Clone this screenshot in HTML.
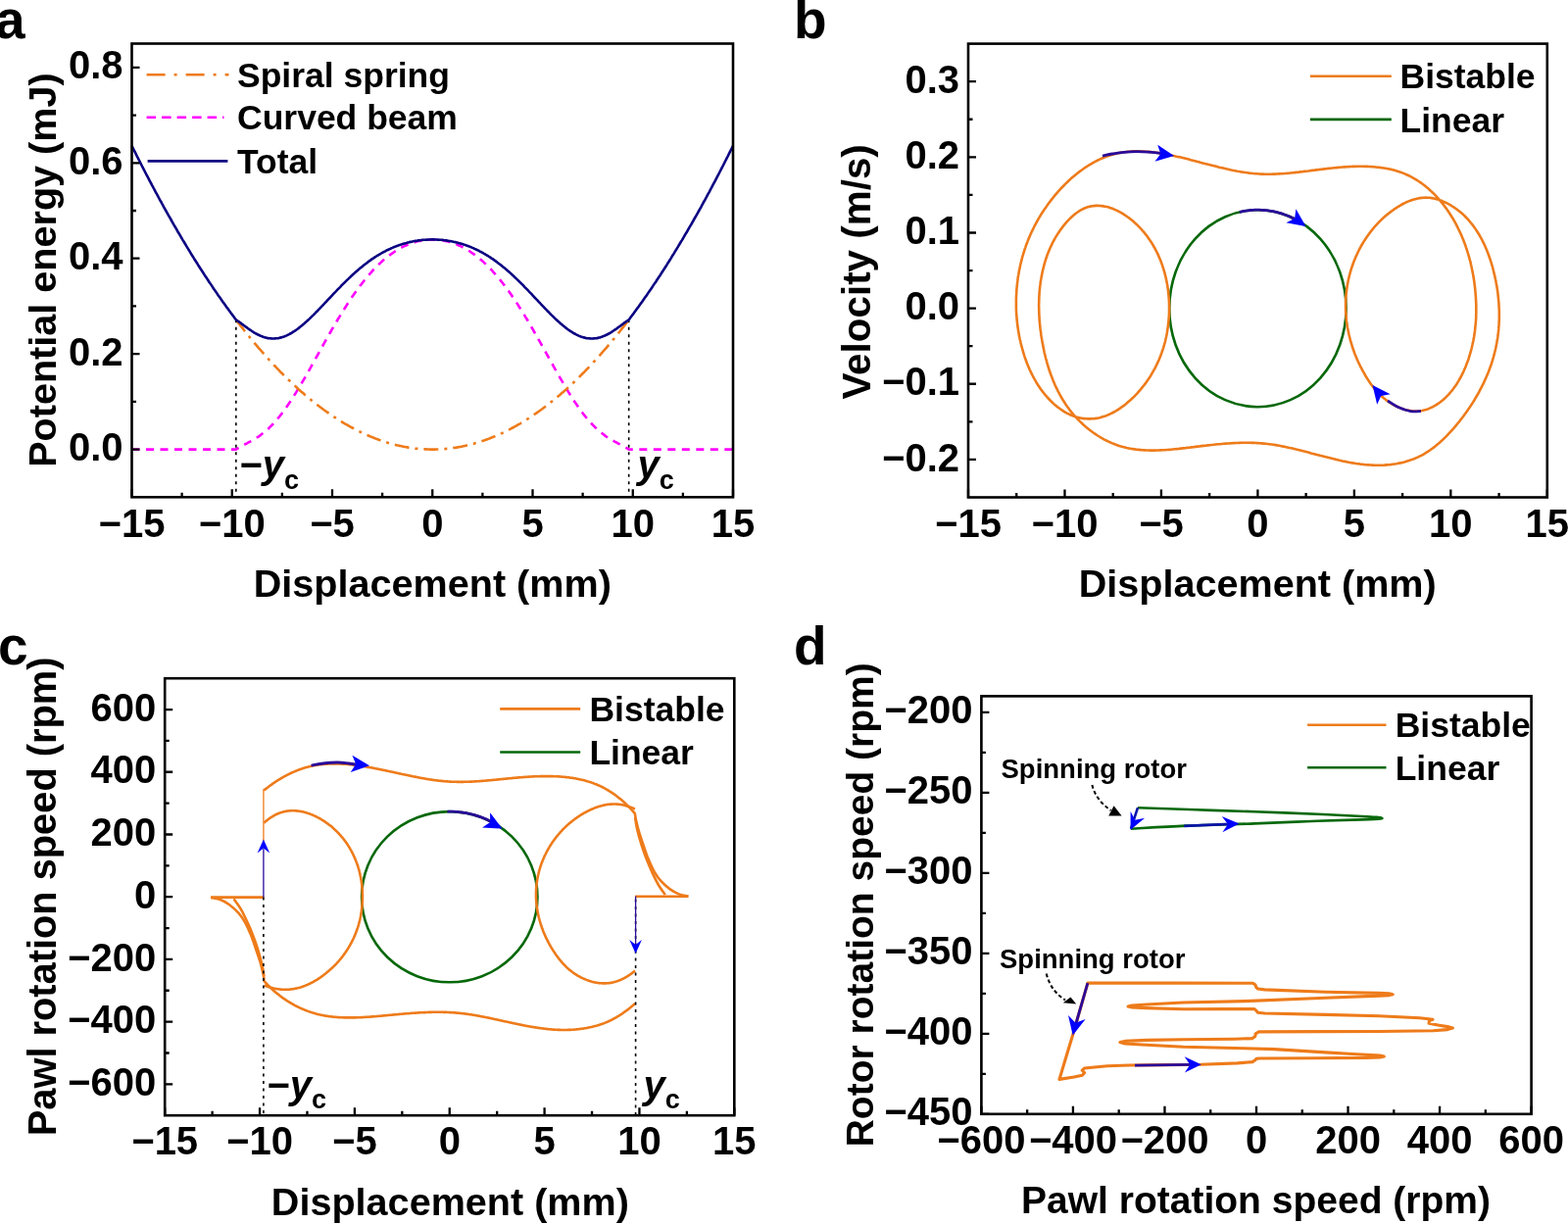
<!DOCTYPE html>
<html><head><meta charset="utf-8"><title>Figure</title>
<style>html,body{margin:0;padding:0;background:#fff;width:1600px;height:1249px;overflow:hidden} svg{display:block}</style>
</head><body>
<svg width="1600" height="1249" viewBox="0 0 1600 1249">
<style>text{font-family:'Liberation Sans', Arial, sans-serif;font-weight:bold;fill:#000} .t40{font-size:40px} .t35{font-size:35.5px}</style>
<rect width="1600" height="1249" fill="#fff"/>
<path d="M134.5 458.6 135.5 458.6 136.5 458.6 137.6 458.6 138.6 458.6 139.6 458.6 140.6 458.6 141.7 458.6 142.7 458.6 143.7 458.6 144.7 458.6 145.7 458.6 146.8 458.6 147.8 458.6 148.8 458.6 149.8 458.6 150.9 458.6 151.9 458.6 152.9 458.6 153.9 458.6 154.9 458.6 156.0 458.6 157.0 458.6 158.0 458.6 159.0 458.6 160.1 458.6 161.1 458.6 162.1 458.6 163.1 458.6 164.2 458.6 165.2 458.6 166.2 458.6 167.2 458.6 168.2 458.6 169.3 458.6 170.3 458.6 171.3 458.6 172.3 458.6 173.4 458.6 174.4 458.6 175.4 458.6 176.4 458.6 177.4 458.6 178.5 458.6 179.5 458.6 180.5 458.6 181.5 458.6 182.6 458.6 183.6 458.6 184.6 458.6 185.6 458.6 186.6 458.6 187.7 458.6 188.7 458.6 189.7 458.6 190.7 458.6 191.8 458.6 192.8 458.6 193.8 458.6 194.8 458.6 195.8 458.6 196.9 458.6 197.9 458.6 198.9 458.6 199.9 458.6 201.0 458.6 202.0 458.6 203.0 458.6 204.0 458.6 205.1 458.6 206.1 458.6 207.1 458.6 208.1 458.6 209.1 458.6 210.2 458.6 211.2 458.6 212.2 458.6 213.2 458.6 214.3 458.6 215.3 458.6 216.3 458.6 217.3 458.6 218.3 458.6 219.4 458.6 220.4 458.6 221.4 458.6 222.4 458.6 223.5 458.6 224.5 458.6 225.5 458.6 226.5 458.6 227.5 458.6 228.6 458.6 229.6 458.6 230.6 458.6 231.6 458.6 232.7 458.6 233.7 458.6 234.7 458.6 235.7 458.6 236.8 458.6 237.8 458.6 238.8 458.6 239.8 458.6 240.8 458.6 241.9 457.9 242.9 457.3 243.9 456.7 244.9 456.1 246.0 455.5 247.0 454.9 248.0 454.4 249.0 453.9 250.0 453.3 251.1 452.8 252.1 452.3 253.1 451.7 254.1 451.2 255.2 450.7 256.2 450.1 257.2 449.5 258.2 448.9 259.2 448.4 260.3 447.7 261.3 447.1 262.3 446.4 263.3 445.8 264.4 445.1 265.4 444.4 266.4 443.6 267.4 442.8 268.4 442.0 269.5 441.2 270.5 440.4 271.5 439.5 272.5 438.6 273.6 437.7 274.6 436.7 275.6 435.7 276.6 434.7 277.6 433.6 278.7 432.5 279.7 431.4 280.7 430.3 281.7 429.1 282.8 427.9 283.8 426.7 284.8 425.5 285.8 424.2 286.9 422.9 287.9 421.5 288.9 420.2 289.9 418.8 290.9 417.4 292.0 416.0 293.0 414.5 294.0 413.0 295.0 411.5 296.1 410.0 297.1 408.4 298.1 406.8 299.1 405.3 300.1 403.6 301.2 402.0 302.2 400.4 303.2 398.7 304.2 397.0 305.3 395.3 306.3 393.6 307.3 391.9 308.3 390.1 309.3 388.4 310.4 386.6 311.4 384.9 312.4 383.1 313.4 381.3 314.5 379.5 315.5 377.7 316.5 375.9 317.5 374.0 318.5 372.2 319.6 370.4 320.6 368.5 321.6 366.7 322.6 364.9 323.7 363.0 324.7 361.2 325.7 359.3 326.7 357.5 327.8 355.7 328.8 353.8 329.8 352.0 330.8 350.2 331.8 348.3 332.9 346.5 333.9 344.7 334.9 342.9 335.9 341.1 337.0 339.3 338.0 337.5 339.0 335.7 340.0 334.0 341.0 332.2 342.1 330.5 343.1 328.7 344.1 327.0 345.1 325.3 346.2 323.6 347.2 321.9 348.2 320.2 349.2 318.6 350.2 316.9 351.3 315.3 352.3 313.7 353.3 312.1 354.3 310.5 355.4 308.9 356.4 307.4 357.4 305.8 358.4 304.3 359.4 302.8 360.5 301.3 361.5 299.8 362.5 298.4 363.5 297.0 364.6 295.6 365.6 294.2 366.6 292.8 367.6 291.4 368.7 290.1 369.7 288.8 370.7 287.5 371.7 286.2 372.7 284.9 373.8 283.7 374.8 282.5 375.8 281.2 376.8 280.1 377.9 278.9 378.9 277.8 379.9 276.6 380.9 275.5 381.9 274.5 383.0 273.4 384.0 272.3 385.0 271.3 386.0 270.3 387.1 269.3 388.1 268.4 389.1 267.4 390.1 266.5 391.1 265.6 392.2 264.7 393.2 263.9 394.2 263.0 395.2 262.2 396.3 261.4 397.3 260.6 398.3 259.9 399.3 259.1 400.4 258.4 401.4 257.7 402.4 257.0 403.4 256.3 404.4 255.7 405.5 255.1 406.5 254.4 407.5 253.9 408.5 253.3 409.6 252.7 410.6 252.2 411.6 251.7 412.6 251.2 413.6 250.7 414.7 250.2 415.7 249.8 416.7 249.4 417.7 249.0 418.8 248.6 419.8 248.2 420.8 247.8 421.8 247.5 422.8 247.2 423.9 246.9 424.9 246.6 425.9 246.3 426.9 246.1 428.0 245.9 429.0 245.7 430.0 245.5 431.0 245.3 432.0 245.1 433.1 245.0 434.1 244.9 435.1 244.7 436.1 244.6 437.2 244.6 438.2 244.5 439.2 244.5 440.2 244.4 441.2 244.4 442.3 244.4 443.3 244.5 444.3 244.5 445.3 244.6 446.4 244.6 447.4 244.7 448.4 244.9 449.4 245.0 450.5 245.1 451.5 245.3 452.5 245.5 453.5 245.7 454.5 245.9 455.6 246.1 456.6 246.3 457.6 246.6 458.6 246.9 459.7 247.2 460.7 247.5 461.7 247.8 462.7 248.2 463.7 248.6 464.8 249.0 465.8 249.4 466.8 249.8 467.8 250.2 468.9 250.7 469.9 251.2 470.9 251.7 471.9 252.2 472.9 252.7 474.0 253.3 475.0 253.9 476.0 254.4 477.0 255.1 478.1 255.7 479.1 256.3 480.1 257.0 481.1 257.7 482.1 258.4 483.2 259.1 484.2 259.9 485.2 260.6 486.2 261.4 487.3 262.2 488.3 263.0 489.3 263.9 490.3 264.7 491.4 265.6 492.4 266.5 493.4 267.4 494.4 268.4 495.4 269.3 496.5 270.3 497.5 271.3 498.5 272.3 499.5 273.4 500.6 274.5 501.6 275.5 502.6 276.6 503.6 277.8 504.6 278.9 505.7 280.1 506.7 281.2 507.7 282.5 508.7 283.7 509.8 284.9 510.8 286.2 511.8 287.5 512.8 288.8 513.8 290.1 514.9 291.4 515.9 292.8 516.9 294.2 517.9 295.6 519.0 297.0 520.0 298.4 521.0 299.8 522.0 301.3 523.0 302.8 524.1 304.3 525.1 305.8 526.1 307.4 527.1 308.9 528.2 310.5 529.2 312.1 530.2 313.7 531.2 315.3 532.3 316.9 533.3 318.6 534.3 320.2 535.3 321.9 536.3 323.6 537.4 325.3 538.4 327.0 539.4 328.7 540.4 330.5 541.5 332.2 542.5 334.0 543.5 335.7 544.5 337.5 545.5 339.3 546.6 341.1 547.6 342.9 548.6 344.7 549.6 346.5 550.7 348.3 551.7 350.2 552.7 352.0 553.7 353.8 554.7 355.7 555.8 357.5 556.8 359.3 557.8 361.2 558.8 363.0 559.9 364.9 560.9 366.7 561.9 368.5 562.9 370.4 564.0 372.2 565.0 374.0 566.0 375.9 567.0 377.7 568.0 379.5 569.1 381.3 570.1 383.1 571.1 384.9 572.1 386.6 573.2 388.4 574.2 390.1 575.2 391.9 576.2 393.6 577.2 395.3 578.3 397.0 579.3 398.7 580.3 400.4 581.3 402.0 582.4 403.6 583.4 405.3 584.4 406.8 585.4 408.4 586.4 410.0 587.5 411.5 588.5 413.0 589.5 414.5 590.5 416.0 591.6 417.4 592.6 418.8 593.6 420.2 594.6 421.5 595.6 422.9 596.7 424.2 597.7 425.5 598.7 426.7 599.7 427.9 600.8 429.1 601.8 430.3 602.8 431.4 603.8 432.5 604.9 433.6 605.9 434.7 606.9 435.7 607.9 436.7 608.9 437.7 610.0 438.6 611.0 439.5 612.0 440.4 613.0 441.2 614.1 442.0 615.1 442.8 616.1 443.6 617.1 444.4 618.1 445.1 619.2 445.8 620.2 446.4 621.2 447.1 622.2 447.7 623.3 448.4 624.3 448.9 625.3 449.5 626.3 450.1 627.3 450.7 628.4 451.2 629.4 451.7 630.4 452.3 631.4 452.8 632.5 453.3 633.5 453.9 634.5 454.4 635.5 454.9 636.5 455.5 637.6 456.1 638.6 456.7 639.6 457.3 640.6 457.9 641.7 458.6 642.7 458.6 643.7 458.6 644.7 458.6 645.8 458.6 646.8 458.6 647.8 458.6 648.8 458.6 649.8 458.6 650.9 458.6 651.9 458.6 652.9 458.6 653.9 458.6 655.0 458.6 656.0 458.6 657.0 458.6 658.0 458.6 659.0 458.6 660.1 458.6 661.1 458.6 662.1 458.6 663.1 458.6 664.2 458.6 665.2 458.6 666.2 458.6 667.2 458.6 668.2 458.6 669.3 458.6 670.3 458.6 671.3 458.6 672.3 458.6 673.4 458.6 674.4 458.6 675.4 458.6 676.4 458.6 677.4 458.6 678.5 458.6 679.5 458.6 680.5 458.6 681.5 458.6 682.6 458.6 683.6 458.6 684.6 458.6 685.6 458.6 686.6 458.6 687.7 458.6 688.7 458.6 689.7 458.6 690.7 458.6 691.8 458.6 692.8 458.6 693.8 458.6 694.8 458.6 695.9 458.6 696.9 458.6 697.9 458.6 698.9 458.6 699.9 458.6 701.0 458.6 702.0 458.6 703.0 458.6 704.0 458.6 705.1 458.6 706.1 458.6 707.1 458.6 708.1 458.6 709.1 458.6 710.2 458.6 711.2 458.6 712.2 458.6 713.2 458.6 714.3 458.6 715.3 458.6 716.3 458.6 717.3 458.6 718.3 458.6 719.4 458.6 720.4 458.6 721.4 458.6 722.4 458.6 723.5 458.6 724.5 458.6 725.5 458.6 726.5 458.6 727.5 458.6 728.6 458.6 729.6 458.6 730.6 458.6 731.6 458.6 732.7 458.6 733.7 458.6 734.7 458.6 735.7 458.6 736.8 458.6 737.8 458.6 738.8 458.6 739.8 458.6 740.8 458.6 741.9 458.6 742.9 458.6 743.9 458.6 744.9 458.6 746.0 458.6 747.0 458.6 748.0 458.6" fill="none" stroke="#FF00FF" stroke-width="2.6" stroke-dasharray="8 6.5"/>
<path d="M240.8 326.3 241.8 327.6 242.8 329.0 243.9 330.3 244.9 331.6 245.9 332.9 246.9 334.2 247.9 335.4 248.9 336.7 249.9 338.0 250.9 339.2 251.9 340.5 252.9 341.8 253.9 343.0 254.9 344.2 255.9 345.5 256.9 346.7 257.9 347.9 258.9 349.1 259.9 350.3 260.9 351.5 261.9 352.7 262.9 353.9 263.9 355.1 264.9 356.2 266.0 357.4 267.0 358.5 268.0 359.7 269.0 360.8 270.0 362.0 271.0 363.1 272.0 364.2 273.0 365.3 274.0 366.5 275.0 367.6 276.0 368.7 277.0 369.7 278.0 370.8 279.0 371.9 280.0 373.0 281.0 374.0 282.0 375.1 283.0 376.1 284.0 377.2 285.0 378.2 286.0 379.3 287.0 380.3 288.1 381.3 289.1 382.3 290.1 383.3 291.1 384.3 292.1 385.3 293.1 386.3 294.1 387.3 295.1 388.2 296.1 389.2 297.1 390.2 298.1 391.1 299.1 392.0 300.1 393.0 301.1 393.9 302.1 394.8 303.1 395.8 304.1 396.7 305.1 397.6 306.1 398.5 307.1 399.4 308.1 400.2 309.2 401.1 310.2 402.0 311.2 402.9 312.2 403.7 313.2 404.6 314.2 405.4 315.2 406.2 316.2 407.1 317.2 407.9 318.2 408.7 319.2 409.5 320.2 410.3 321.2 411.1 322.2 411.9 323.2 412.7 324.2 413.5 325.2 414.3 326.2 415.0 327.2 415.8 328.2 416.5 329.2 417.3 330.2 418.0 331.3 418.7 332.3 419.5 333.3 420.2 334.3 420.9 335.3 421.6 336.3 422.3 337.3 423.0 338.3 423.7 339.3 424.3 340.3 425.0 341.3 425.7 342.3 426.3 343.3 427.0 344.3 427.6 345.3 428.3 346.3 428.9 347.3 429.5 348.3 430.1 349.3 430.8 350.3 431.4 351.3 432.0 352.3 432.6 353.4 433.1 354.4 433.7 355.4 434.3 356.4 434.9 357.4 435.4 358.4 436.0 359.4 436.5 360.4 437.0 361.4 437.6 362.4 438.1 363.4 438.6 364.4 439.1 365.4 439.6 366.4 440.1 367.4 440.6 368.4 441.1 369.4 441.6 370.4 442.1 371.4 442.5 372.4 443.0 373.4 443.4 374.4 443.9 375.5 444.3 376.5 444.8 377.5 445.2 378.5 445.6 379.5 446.0 380.5 446.4 381.5 446.8 382.5 447.2 383.5 447.6 384.5 448.0 385.5 448.3 386.5 448.7 387.5 449.1 388.5 449.4 389.5 449.8 390.5 450.1 391.5 450.4 392.5 450.8 393.5 451.1 394.5 451.4 395.5 451.7 396.5 452.0 397.6 452.3 398.6 452.6 399.6 452.9 400.6 453.1 401.6 453.4 402.6 453.7 403.6 453.9 404.6 454.2 405.6 454.4 406.6 454.6 407.6 454.9 408.6 455.1 409.6 455.3 410.6 455.5 411.6 455.7 412.6 455.9 413.6 456.1 414.6 456.3 415.6 456.4 416.6 456.6 417.6 456.7 418.6 456.9 419.7 457.0 420.7 457.2 421.7 457.3 422.7 457.4 423.7 457.6 424.7 457.7 425.7 457.8 426.7 457.9 427.7 458.0 428.7 458.1 429.7 458.1 430.7 458.2 431.7 458.3 432.7 458.3 433.7 458.4 434.7 458.4 435.7 458.5 436.7 458.5 437.7 458.5 438.7 458.6 439.7 458.6 440.7 458.6 441.8 458.6 442.8 458.6 443.8 458.6 444.8 458.5 445.8 458.5 446.8 458.5 447.8 458.4 448.8 458.4 449.8 458.3 450.8 458.3 451.8 458.2 452.8 458.1 453.8 458.1 454.8 458.0 455.8 457.9 456.8 457.8 457.8 457.7 458.8 457.6 459.8 457.4 460.8 457.3 461.8 457.2 462.8 457.0 463.9 456.9 464.9 456.7 465.9 456.6 466.9 456.4 467.9 456.3 468.9 456.1 469.9 455.9 470.9 455.7 471.9 455.5 472.9 455.3 473.9 455.1 474.9 454.9 475.9 454.6 476.9 454.4 477.9 454.2 478.9 453.9 479.9 453.7 480.9 453.4 481.9 453.1 482.9 452.9 483.9 452.6 484.9 452.3 486.0 452.0 487.0 451.7 488.0 451.4 489.0 451.1 490.0 450.8 491.0 450.4 492.0 450.1 493.0 449.8 494.0 449.4 495.0 449.1 496.0 448.7 497.0 448.3 498.0 448.0 499.0 447.6 500.0 447.2 501.0 446.8 502.0 446.4 503.0 446.0 504.0 445.6 505.0 445.2 506.0 444.8 507.0 444.3 508.1 443.9 509.1 443.4 510.1 443.0 511.1 442.5 512.1 442.1 513.1 441.6 514.1 441.1 515.1 440.6 516.1 440.1 517.1 439.6 518.1 439.1 519.1 438.6 520.1 438.1 521.1 437.6 522.1 437.0 523.1 436.5 524.1 436.0 525.1 435.4 526.1 434.9 527.1 434.3 528.1 433.7 529.1 433.1 530.2 432.6 531.2 432.0 532.2 431.4 533.2 430.8 534.2 430.1 535.2 429.5 536.2 428.9 537.2 428.3 538.2 427.6 539.2 427.0 540.2 426.3 541.2 425.7 542.2 425.0 543.2 424.3 544.2 423.7 545.2 423.0 546.2 422.3 547.2 421.6 548.2 420.9 549.2 420.2 550.2 419.5 551.2 418.7 552.3 418.0 553.3 417.3 554.3 416.5 555.3 415.8 556.3 415.0 557.3 414.3 558.3 413.5 559.3 412.7 560.3 411.9 561.3 411.1 562.3 410.3 563.3 409.5 564.3 408.7 565.3 407.9 566.3 407.1 567.3 406.2 568.3 405.4 569.3 404.6 570.3 403.7 571.3 402.9 572.3 402.0 573.3 401.1 574.4 400.2 575.4 399.4 576.4 398.5 577.4 397.6 578.4 396.7 579.4 395.8 580.4 394.8 581.4 393.9 582.4 393.0 583.4 392.0 584.4 391.1 585.4 390.2 586.4 389.2 587.4 388.2 588.4 387.3 589.4 386.3 590.4 385.3 591.4 384.3 592.4 383.3 593.4 382.3 594.4 381.3 595.5 380.3 596.5 379.3 597.5 378.2 598.5 377.2 599.5 376.1 600.5 375.1 601.5 374.0 602.5 373.0 603.5 371.9 604.5 370.8 605.5 369.7 606.5 368.7 607.5 367.6 608.5 366.5 609.5 365.3 610.5 364.2 611.5 363.1 612.5 362.0 613.5 360.8 614.5 359.7 615.5 358.5 616.5 357.4 617.6 356.2 618.6 355.1 619.6 353.9 620.6 352.7 621.6 351.5 622.6 350.3 623.6 349.1 624.6 347.9 625.6 346.7 626.6 345.5 627.6 344.2 628.6 343.0 629.6 341.8 630.6 340.5 631.6 339.2 632.6 338.0 633.6 336.7 634.6 335.4 635.6 334.2 636.6 332.9 637.6 331.6 638.6 330.3 639.7 329.0 640.7 327.6 641.7 326.3" fill="none" stroke="#EE7B1A" stroke-width="2.6" stroke-dasharray="15 6 3 6"/>
<path d="M240.84 326.32V507.30" stroke="#000" stroke-width="1.6" stroke-dasharray="3 4.5"/>
<path d="M641.66 326.32V507.30" stroke="#000" stroke-width="1.6" stroke-dasharray="3 4.5"/>
<path d="M134.5 148.7 135.5 150.8 136.5 152.8 137.6 154.9 138.6 156.9 139.6 159.0 140.6 161.0 141.7 163.0 142.7 165.0 143.7 167.0 144.7 169.0 145.7 171.0 146.8 173.0 147.8 175.0 148.8 177.0 149.8 178.9 150.9 180.9 151.9 182.8 152.9 184.8 153.9 186.7 154.9 188.7 156.0 190.6 157.0 192.5 158.0 194.4 159.0 196.3 160.1 198.2 161.1 200.1 162.1 202.0 163.1 203.9 164.2 205.7 165.2 207.6 166.2 209.4 167.2 211.3 168.2 213.1 169.3 215.0 170.3 216.8 171.3 218.6 172.3 220.4 173.4 222.2 174.4 224.0 175.4 225.8 176.4 227.6 177.4 229.4 178.5 231.2 179.5 232.9 180.5 234.7 181.5 236.5 182.6 238.2 183.6 239.9 184.6 241.7 185.6 243.4 186.6 245.1 187.7 246.8 188.7 248.5 189.7 250.2 190.7 251.9 191.8 253.6 192.8 255.3 193.8 256.9 194.8 258.6 195.8 260.3 196.9 261.9 197.9 263.6 198.9 265.2 199.9 266.8 201.0 268.4 202.0 270.1 203.0 271.7 204.0 273.3 205.1 274.9 206.1 276.5 207.1 278.0 208.1 279.6 209.1 281.2 210.2 282.7 211.2 284.3 212.2 285.8 213.2 287.4 214.3 288.9 215.3 290.4 216.3 291.9 217.3 293.5 218.3 295.0 219.4 296.5 220.4 297.9 221.4 299.4 222.4 300.9 223.5 302.4 224.5 303.8 225.5 305.3 226.5 306.7 227.5 308.2 228.6 309.6 229.6 311.1 230.6 312.5 231.6 313.9 232.7 315.3 233.7 316.7 234.7 318.1 235.7 319.5 236.8 320.9 237.8 322.2 238.8 323.6 239.8 325.0 240.8 326.3 241.9 327.0 242.9 327.7 243.9 328.4 244.9 329.2 246.0 329.9 247.0 330.7 248.0 331.4 249.0 332.2 250.0 332.9 251.1 333.7 252.1 334.4 253.1 335.2 254.1 335.9 255.2 336.6 256.2 337.3 257.2 338.0 258.2 338.6 259.2 339.3 260.3 339.9 261.3 340.5 262.3 341.0 263.3 341.5 264.4 342.0 265.4 342.5 266.4 342.9 267.4 343.3 268.4 343.7 269.5 344.0 270.5 344.4 271.5 344.6 272.5 344.9 273.6 345.1 274.6 345.2 275.6 345.3 276.6 345.4 277.6 345.5 278.7 345.5 279.7 345.5 280.7 345.4 281.7 345.3 282.8 345.2 283.8 345.1 284.8 344.9 285.8 344.6 286.9 344.4 287.9 344.1 288.9 343.7 289.9 343.4 290.9 343.0 292.0 342.6 293.0 342.1 294.0 341.6 295.0 341.1 296.1 340.5 297.1 340.0 298.1 339.4 299.1 338.7 300.1 338.1 301.2 337.4 302.2 336.7 303.2 336.0 304.2 335.2 305.3 334.4 306.3 333.6 307.3 332.8 308.3 332.0 309.3 331.1 310.4 330.2 311.4 329.3 312.4 328.4 313.4 327.5 314.5 326.5 315.5 325.6 316.5 324.6 317.5 323.6 318.5 322.6 319.6 321.6 320.6 320.6 321.6 319.6 322.6 318.5 323.7 317.5 324.7 316.4 325.7 315.4 326.7 314.3 327.8 313.2 328.8 312.2 329.8 311.1 330.8 310.0 331.8 308.9 332.9 307.8 333.9 306.7 334.9 305.7 335.9 304.6 337.0 303.5 338.0 302.4 339.0 301.3 340.0 300.2 341.0 299.1 342.1 298.1 343.1 297.0 344.1 295.9 345.1 294.9 346.2 293.8 347.2 292.8 348.2 291.7 349.2 290.7 350.2 289.7 351.3 288.6 352.3 287.6 353.3 286.6 354.3 285.6 355.4 284.6 356.4 283.6 357.4 282.7 358.4 281.7 359.4 280.8 360.5 279.8 361.5 278.9 362.5 278.0 363.5 277.1 364.6 276.2 365.6 275.3 366.6 274.4 367.6 273.6 368.7 272.7 369.7 271.9 370.7 271.1 371.7 270.3 372.7 269.5 373.8 268.7 374.8 267.9 375.8 267.1 376.8 266.4 377.9 265.7 378.9 264.9 379.9 264.2 380.9 263.6 381.9 262.9 383.0 262.2 384.0 261.5 385.0 260.9 386.0 260.3 387.1 259.7 388.1 259.1 389.1 258.5 390.1 257.9 391.1 257.3 392.2 256.8 393.2 256.3 394.2 255.7 395.2 255.2 396.3 254.7 397.3 254.3 398.3 253.8 399.3 253.3 400.4 252.9 401.4 252.4 402.4 252.0 403.4 251.6 404.4 251.2 405.5 250.8 406.5 250.5 407.5 250.1 408.5 249.8 409.6 249.4 410.6 249.1 411.6 248.8 412.6 248.5 413.6 248.2 414.7 247.9 415.7 247.6 416.7 247.4 417.7 247.1 418.8 246.9 419.8 246.7 420.8 246.5 421.8 246.3 422.8 246.1 423.9 245.9 424.9 245.7 425.9 245.6 426.9 245.4 428.0 245.3 429.0 245.2 430.0 245.0 431.0 244.9 432.0 244.8 433.1 244.8 434.1 244.7 435.1 244.6 436.1 244.6 437.2 244.5 438.2 244.5 439.2 244.5 440.2 244.4 441.2 244.4 442.3 244.4 443.3 244.5 444.3 244.5 445.3 244.5 446.4 244.6 447.4 244.6 448.4 244.7 449.4 244.8 450.5 244.8 451.5 244.9 452.5 245.0 453.5 245.2 454.5 245.3 455.6 245.4 456.6 245.6 457.6 245.7 458.6 245.9 459.7 246.1 460.7 246.3 461.7 246.5 462.7 246.7 463.7 246.9 464.8 247.1 465.8 247.4 466.8 247.6 467.8 247.9 468.9 248.2 469.9 248.5 470.9 248.8 471.9 249.1 472.9 249.4 474.0 249.8 475.0 250.1 476.0 250.5 477.0 250.8 478.1 251.2 479.1 251.6 480.1 252.0 481.1 252.4 482.1 252.9 483.2 253.3 484.2 253.8 485.2 254.3 486.2 254.7 487.3 255.2 488.3 255.7 489.3 256.3 490.3 256.8 491.4 257.3 492.4 257.9 493.4 258.5 494.4 259.1 495.4 259.7 496.5 260.3 497.5 260.9 498.5 261.5 499.5 262.2 500.6 262.9 501.6 263.6 502.6 264.2 503.6 264.9 504.6 265.7 505.7 266.4 506.7 267.1 507.7 267.9 508.7 268.7 509.8 269.5 510.8 270.3 511.8 271.1 512.8 271.9 513.8 272.7 514.9 273.6 515.9 274.4 516.9 275.3 517.9 276.2 519.0 277.1 520.0 278.0 521.0 278.9 522.0 279.8 523.0 280.8 524.1 281.7 525.1 282.7 526.1 283.6 527.1 284.6 528.2 285.6 529.2 286.6 530.2 287.6 531.2 288.6 532.3 289.7 533.3 290.7 534.3 291.7 535.3 292.8 536.3 293.8 537.4 294.9 538.4 295.9 539.4 297.0 540.4 298.1 541.5 299.1 542.5 300.2 543.5 301.3 544.5 302.4 545.5 303.5 546.6 304.6 547.6 305.7 548.6 306.7 549.6 307.8 550.7 308.9 551.7 310.0 552.7 311.1 553.7 312.2 554.7 313.2 555.8 314.3 556.8 315.4 557.8 316.4 558.8 317.5 559.9 318.5 560.9 319.6 561.9 320.6 562.9 321.6 564.0 322.6 565.0 323.6 566.0 324.6 567.0 325.6 568.0 326.5 569.1 327.5 570.1 328.4 571.1 329.3 572.1 330.2 573.2 331.1 574.2 332.0 575.2 332.8 576.2 333.6 577.2 334.4 578.3 335.2 579.3 336.0 580.3 336.7 581.3 337.4 582.4 338.1 583.4 338.7 584.4 339.4 585.4 340.0 586.4 340.5 587.5 341.1 588.5 341.6 589.5 342.1 590.5 342.6 591.6 343.0 592.6 343.4 593.6 343.7 594.6 344.1 595.6 344.4 596.7 344.6 597.7 344.9 598.7 345.1 599.7 345.2 600.8 345.3 601.8 345.4 602.8 345.5 603.8 345.5 604.9 345.5 605.9 345.4 606.9 345.3 607.9 345.2 608.9 345.1 610.0 344.9 611.0 344.6 612.0 344.4 613.0 344.0 614.1 343.7 615.1 343.3 616.1 342.9 617.1 342.5 618.1 342.0 619.2 341.5 620.2 341.0 621.2 340.5 622.2 339.9 623.3 339.3 624.3 338.6 625.3 338.0 626.3 337.3 627.3 336.6 628.4 335.9 629.4 335.2 630.4 334.4 631.4 333.7 632.5 332.9 633.5 332.2 634.5 331.4 635.5 330.7 636.5 329.9 637.6 329.2 638.6 328.4 639.6 327.7 640.6 327.0 641.7 326.3 642.7 325.0 643.7 323.6 644.7 322.2 645.8 320.9 646.8 319.5 647.8 318.1 648.8 316.7 649.8 315.3 650.9 313.9 651.9 312.5 652.9 311.1 653.9 309.6 655.0 308.2 656.0 306.7 657.0 305.3 658.0 303.8 659.0 302.4 660.1 300.9 661.1 299.4 662.1 297.9 663.1 296.5 664.2 295.0 665.2 293.5 666.2 291.9 667.2 290.4 668.2 288.9 669.3 287.4 670.3 285.8 671.3 284.3 672.3 282.7 673.4 281.2 674.4 279.6 675.4 278.0 676.4 276.5 677.4 274.9 678.5 273.3 679.5 271.7 680.5 270.1 681.5 268.4 682.6 266.8 683.6 265.2 684.6 263.6 685.6 261.9 686.6 260.3 687.7 258.6 688.7 256.9 689.7 255.3 690.7 253.6 691.8 251.9 692.8 250.2 693.8 248.5 694.8 246.8 695.9 245.1 696.9 243.4 697.9 241.7 698.9 239.9 699.9 238.2 701.0 236.5 702.0 234.7 703.0 232.9 704.0 231.2 705.1 229.4 706.1 227.6 707.1 225.8 708.1 224.0 709.1 222.2 710.2 220.4 711.2 218.6 712.2 216.8 713.2 215.0 714.3 213.1 715.3 211.3 716.3 209.4 717.3 207.6 718.3 205.7 719.4 203.9 720.4 202.0 721.4 200.1 722.4 198.2 723.5 196.3 724.5 194.4 725.5 192.5 726.5 190.6 727.5 188.7 728.6 186.7 729.6 184.8 730.6 182.8 731.6 180.9 732.7 178.9 733.7 177.0 734.7 175.0 735.7 173.0 736.8 171.0 737.8 169.0 738.8 167.0 739.8 165.0 740.8 163.0 741.9 161.0 742.9 159.0 743.9 156.9 744.9 154.9 746.0 152.8 747.0 150.8 748.0 148.7" fill="none" stroke="#0A0082" stroke-width="2.6"/>
<text x="244.5" y="487.7" style="font-size:40px">−<tspan style="font-style:italic">y</tspan><tspan dy="11" style="font-size:27px">c</tspan></text>
<text x="650.5" y="487.7" style="font-size:40px"><tspan style="font-style:italic">y</tspan><tspan dy="11" style="font-size:27px">c</tspan></text>
<ellipse cx="1283.4" cy="314.7" rx="90.2" ry="100.5" fill="none" stroke="#06680A" stroke-width="2.6"/>
<path d="M1280.9 177.2 1282.9 177.3 1284.9 177.5 1286.9 177.6 1288.9 177.6 1290.9 177.7 1292.9 177.7 1294.9 177.7 1296.9 177.7 1298.9 177.6 1300.9 177.6 1302.9 177.5 1304.9 177.4 1306.9 177.3 1308.9 177.2 1310.9 177.0 1312.9 176.9 1314.9 176.7 1316.9 176.5 1318.9 176.3 1320.8 176.1 1322.8 175.9 1324.8 175.7 1326.8 175.4 1328.9 175.2 1330.9 174.9 1332.9 174.7 1334.9 174.5 1336.9 174.2 1338.9 173.9 1341.0 173.7 1343.0 173.4 1345.0 173.2 1347.1 172.9 1349.1 172.7 1351.2 172.4 1353.2 172.2 1355.3 171.9 1357.4 171.7 1359.5 171.5 1361.5 171.3 1363.6 171.1 1365.7 170.9 1367.8 170.7 1370.0 170.5 1372.1 170.4 1374.2 170.3 1376.3 170.1 1378.4 170.0 1380.6 169.9 1382.7 169.9 1384.8 169.8 1386.9 169.8 1389.0 169.8 1391.2 169.8 1393.3 169.9 1395.4 169.9 1397.5 170.0 1399.6 170.1 1401.7 170.3 1403.7 170.5 1405.8 170.7 1407.9 170.9 1409.9 171.2 1412.0 171.5 1414.0 171.8 1416.0 172.2 1418.0 172.6 1420.0 173.1 1422.0 173.6 1423.9 174.1 1425.9 174.7 1427.8 175.3 1429.7 175.9 1431.6 176.6 1433.5 177.4 1435.3 178.2 1437.1 179.0 1438.9 179.9 1440.7 180.8 1442.5 181.8 1444.2 182.8 1445.9 183.9 1447.6 185.0 1449.3 186.1 1450.9 187.3 1452.6 188.5 1454.2 189.7 1455.7 191.0 1457.3 192.3 1458.8 193.7 1460.3 195.1 1461.8 196.5 1463.3 197.9 1464.7 199.4 1466.1 200.9 1467.5 202.4 1468.9 204.0 1470.2 205.6 1471.5 207.2 1472.8 208.8 1474.1 210.5 1475.3 212.1 1476.5 213.8 1477.7 215.5 1478.9 217.3 1480.0 219.0 1481.1 220.8 1482.2 222.5 1483.3 224.3 1484.3 226.1 1485.3 227.9 1486.3 229.8 1487.2 231.6 1488.1 233.5 1489.0 235.3 1489.9 237.2 1490.8 239.1 1491.6 241.0 1492.4 242.9 1493.2 244.8 1493.9 246.7 1494.7 248.7 1495.4 250.6 1496.0 252.6 1496.7 254.5 1497.3 256.5 1497.9 258.5 1498.5 260.5 1499.1 262.4 1499.6 264.4 1500.2 266.4 1500.7 268.5 1501.1 270.5 1501.6 272.5 1502.0 274.5 1502.4 276.5 1502.8 278.6 1503.2 280.6 1503.5 282.6 1503.9 284.7 1504.2 286.7 1504.5 288.7 1504.7 290.8 1505.0 292.8 1505.2 294.9 1505.4 296.9 1505.6 299.0 1505.7 301.0 1505.9 303.1 1506.0 305.1 1506.1 307.1 1506.2 309.2 1506.3 311.2 1506.3 313.3 1506.3 315.3 1506.3 317.4 1506.3 319.4 1506.2 321.4 1506.2 323.5 1506.1 325.5 1506.0 327.5 1505.8 329.6 1505.6 331.6 1505.4 333.6 1505.2 335.7 1505.0 337.7 1504.7 339.7 1504.4 341.7 1504.1 343.7 1503.7 345.7 1503.4 347.7 1502.9 349.8 1502.5 351.8 1502.0 353.8 1501.6 355.8 1501.0 357.7 1500.5 359.7 1499.9 361.7 1499.3 363.7 1498.7 365.7 1498.0 367.7 1497.3 369.6 1496.5 371.6 1495.8 373.5 1495.0 375.5 1494.1 377.4 1493.3 379.3 1492.4 381.2 1491.4 383.1 1490.5 385.0 1489.4 386.8 1488.4 388.6 1487.3 390.4 1486.2 392.2 1485.0 393.9 1483.8 395.6 1482.6 397.3 1481.3 398.9 1479.9 400.5 1478.6 402.1 1477.1 403.6 1475.7 405.1 1474.2 406.5 1472.6 407.9 1471.0 409.2 1469.4 410.5 1467.7 411.7 1466.0 412.8 1464.3 413.9 1462.5 414.9 1460.7 415.8 1458.8 416.6 1457.0 417.4 1455.1 418.0 1453.2 418.5 1451.3 419.0 1449.3 419.3 1447.4 419.5 1445.4 419.6 1443.4 419.5 1441.4 419.4 1439.4 419.2 1437.5 418.8 1435.5 418.4 1433.5 417.9 1431.5 417.3 1429.6 416.6 1427.7 415.9 1425.8 415.0 1423.9 414.1 1422.0 413.1 1420.2 412.1 1418.4 411.0 1416.7 409.8 1415.0 408.6 1413.3 407.3 1411.7 406.0 1410.1 404.6 1408.6 403.2 1407.1 401.7 1405.7 400.2 1404.3 398.7 1402.9 397.1 1401.6 395.5 1400.4 393.9 1399.1 392.2 1397.9 390.5 1396.8 388.8 1395.6 387.1 1394.5 385.3 1393.4 383.5 1392.4 381.7 1391.4 379.9 1390.4 378.1 1389.4 376.2 1388.4 374.4 1387.5 372.5 1386.6 370.7 1385.7 368.8 1384.9 366.9 1384.1 365.0 1383.3 363.1 1382.5 361.2 1381.8 359.2 1381.1 357.3 1380.4 355.3 1379.8 353.4 1379.2 351.4 1378.6 349.4 1378.0 347.5 1377.5 345.5 1377.0 343.5 1376.5 341.5 1376.1 339.5 1375.7 337.5 1375.3 335.5 1374.9 333.5 1374.6 331.4 1374.3 329.4 1374.0 327.4 1373.8 325.3 1373.6 323.3 1373.5 321.3 1373.3 319.2 1373.2 317.2 1373.1 315.2 1373.1 313.1 1373.1 311.1 1373.1 309.0 1373.2 307.0 1373.3 304.9 1373.4 302.9 1373.6 300.9 1373.8 298.8 1374.0 296.8 1374.3 294.8 1374.6 292.7 1374.9 290.7 1375.3 288.7 1375.7 286.6 1376.1 284.6 1376.6 282.6 1377.1 280.6 1377.6 278.6 1378.2 276.6 1378.8 274.7 1379.4 272.7 1380.1 270.7 1380.8 268.8 1381.5 266.8 1382.3 264.9 1383.1 263.0 1383.9 261.1 1384.8 259.2 1385.7 257.3 1386.6 255.5 1387.5 253.6 1388.5 251.8 1389.5 250.0 1390.6 248.2 1391.7 246.4 1392.8 244.7 1393.9 243.0 1395.1 241.2 1396.3 239.6 1397.5 237.9 1398.8 236.2 1400.1 234.6 1401.4 233.0 1402.7 231.4 1404.1 229.9 1405.5 228.4 1406.9 226.9 1408.4 225.4 1409.9 223.9 1411.4 222.5 1413.0 221.1 1414.5 219.8 1416.1 218.4 1417.7 217.2 1419.4 215.9 1421.1 214.7 1422.8 213.4 1424.5 212.3 1426.3 211.2 1428.1 210.1 1429.9 209.0 1431.7 208.0 1433.6 207.1 1435.4 206.2 1437.3 205.4 1439.2 204.7 1441.1 204.0 1443.0 203.4 1445.0 202.9 1446.9 202.5 1448.9 202.1 1450.9 201.9 1452.9 201.7 1454.9 201.6 1456.9 201.7 1458.9 201.8 1460.9 202.1 1462.9 202.4 1464.9 202.9 1466.9 203.4 1468.8 204.1 1470.8 204.8 1472.7 205.6 1474.6 206.5 1476.5 207.4 1478.4 208.4 1480.2 209.4 1481.9 210.5 1483.7 211.6 1485.3 212.7 1487.0 213.9 1488.6 215.2 1490.2 216.4 1491.7 217.8 1493.2 219.1 1494.7 220.5 1496.1 222.0 1497.5 223.4 1498.8 224.9 1500.1 226.5 1501.4 228.0 1502.7 229.6 1503.9 231.2 1505.1 232.9 1506.2 234.6 1507.3 236.3 1508.4 238.0 1509.5 239.8 1510.5 241.6 1511.5 243.4 1512.5 245.2 1513.4 247.1 1514.3 248.9 1515.2 250.8 1516.0 252.7 1516.8 254.6 1517.6 256.6 1518.4 258.5 1519.1 260.5 1519.8 262.5 1520.5 264.4 1521.1 266.4 1521.8 268.4 1522.4 270.5 1523.0 272.5 1523.5 274.5 1524.0 276.5 1524.5 278.6 1525.0 280.6 1525.5 282.7 1525.9 284.7 1526.4 286.8 1526.7 288.8 1527.1 290.9 1527.5 292.9 1527.8 295.0 1528.1 297.0 1528.4 299.1 1528.6 301.1 1528.8 303.2 1529.0 305.2 1529.2 307.3 1529.4 309.4 1529.5 311.4 1529.6 313.5 1529.7 315.5 1529.8 317.6 1529.8 319.6 1529.8 321.7 1529.8 323.7 1529.8 325.8 1529.7 327.8 1529.6 329.8 1529.5 331.9 1529.3 333.9 1529.2 335.9 1529.0 338.0 1528.8 340.0 1528.5 342.0 1528.3 344.0 1528.0 346.0 1527.6 348.0 1527.3 350.0 1526.9 352.0 1526.5 354.0 1526.1 356.0 1525.6 358.0 1525.1 360.0 1524.6 361.9 1524.1 363.9 1523.5 365.9 1522.9 367.8 1522.3 369.8 1521.7 371.7 1521.0 373.6 1520.3 375.6 1519.6 377.5 1518.9 379.4 1518.1 381.3 1517.3 383.2 1516.5 385.1 1515.7 386.9 1514.8 388.8 1514.0 390.7 1513.1 392.5 1512.1 394.4 1511.2 396.2 1510.2 398.0 1509.3 399.9 1508.3 401.7 1507.2 403.5 1506.2 405.3 1505.1 407.0 1504.1 408.8 1503.0 410.6 1501.9 412.3 1500.7 414.1 1499.6 415.8 1498.4 417.5 1497.2 419.2 1496.0 420.9 1494.8 422.6 1493.6 424.3 1492.3 426.0 1491.0 427.6 1489.8 429.3 1488.5 430.9 1487.1 432.5 1485.8 434.1 1484.5 435.7 1483.1 437.3 1481.7 438.8 1480.3 440.4 1478.9 441.9 1477.5 443.4 1476.1 444.9 1474.6 446.4 1473.1 447.8 1471.7 449.2 1470.1 450.6 1468.6 452.0 1467.0 453.3 1465.5 454.6 1463.9 455.9 1462.3 457.1 1460.6 458.3 1459.0 459.5 1457.3 460.6 1455.6 461.7 1453.8 462.8 1452.1 463.8 1450.3 464.8 1448.5 465.7 1446.6 466.6 1444.8 467.4 1442.9 468.2 1441.0 468.9 1439.0 469.6 1437.1 470.2 1435.1 470.8 1433.1 471.4 1431.1 471.9 1429.1 472.4 1427.0 472.8 1425.0 473.2 1423.0 473.5 1420.9 473.8 1418.9 474.1 1416.8 474.3 1414.8 474.4 1412.7 474.6 1410.7 474.7 1408.6 474.7 1406.6 474.8 1404.5 474.8 1402.5 474.7 1400.5 474.6 1398.4 474.5 1396.4 474.4 1394.3 474.3 1392.3 474.1 1390.3 473.8 1388.2 473.6 1386.2 473.3 1384.2 473.1 1382.2 472.7 1380.1 472.4 1378.1 472.1 1376.1 471.7 1374.1 471.3 1372.0 470.9 1370.0 470.5 1368.0 470.0 1366.0 469.6 1363.9 469.1 1361.9 468.6 1359.9 468.1 1357.9 467.6 1355.9 467.1 1353.9 466.6 1351.8 466.1 1349.8 465.6 1347.8 465.1 1345.8 464.5 1343.8 464.0 1341.8 463.4 1339.7 462.9 1337.7 462.4 1335.7 461.8 1333.7 461.3 1331.7 460.8 1329.7 460.3 1327.7 459.7 1325.7 459.2 1323.6 458.7 1321.6 458.3 1319.6 457.8 1317.6 457.3 1315.6 456.9 1313.6 456.4 1311.6 456.0 1309.5 455.6 1307.5 455.2 1305.5 454.8 1303.5 454.4 1301.5 454.1 1299.5 453.8 1297.5 453.5 1295.4 453.2 1293.4 453.0 1291.4 452.8 1289.4 452.6 1287.4 452.4 1285.4 452.2 1283.3 452.1 1281.3 452.0 1279.3 451.9 1277.3 451.9 1275.3 451.8 1273.2 451.8 1271.2 451.8 1269.2 451.8 1267.2 451.8 1265.1 451.9 1263.1 452.0 1261.1 452.0 1259.0 452.1 1257.0 452.2 1254.9 452.4 1252.9 452.5 1250.9 452.6 1248.8 452.8 1246.8 453.0 1244.7 453.2 1242.7 453.3 1240.6 453.5 1238.6 453.8 1236.5 454.0 1234.4 454.2 1232.4 454.4 1230.3 454.7 1228.2 454.9 1226.1 455.1 1224.1 455.4 1222.0 455.6 1219.9 455.9 1217.8 456.2 1215.7 456.4 1213.6 456.7 1211.5 456.9 1209.4 457.2 1207.3 457.4 1205.2 457.6 1203.1 457.9 1201.0 458.1 1198.9 458.3 1196.8 458.5 1194.7 458.7 1192.6 458.9 1190.6 459.0 1188.5 459.2 1186.4 459.3 1184.3 459.4 1182.2 459.5 1180.1 459.5 1178.1 459.6 1176.0 459.6 1173.9 459.6 1171.9 459.5 1169.8 459.5 1167.8 459.4 1165.7 459.3 1163.7 459.1 1161.7 458.9 1159.7 458.7 1157.7 458.4 1155.7 458.1 1153.7 457.8 1151.7 457.4 1149.7 457.0 1147.8 456.5 1145.8 456.0 1143.9 455.5 1142.0 454.9 1140.0 454.2 1138.1 453.6 1136.3 452.8 1134.4 452.1 1132.5 451.2 1130.7 450.4 1128.9 449.5 1127.0 448.6 1125.3 447.6 1123.5 446.6 1121.7 445.5 1120.0 444.5 1118.3 443.3 1116.6 442.2 1114.9 441.0 1113.2 439.8 1111.6 438.5 1110.0 437.2 1108.4 435.9 1106.8 434.6 1105.3 433.2 1103.8 431.8 1102.3 430.4 1100.8 428.9 1099.4 427.4 1098.0 425.9 1096.6 424.4 1095.2 422.8 1093.9 421.2 1092.6 419.6 1091.3 418.0 1090.1 416.3 1088.9 414.7 1087.7 413.0 1086.6 411.3 1085.5 409.5 1084.4 407.8 1083.3 406.0 1082.3 404.2 1081.3 402.4 1080.4 400.6 1079.4 398.8 1078.5 396.9 1077.6 395.1 1076.7 393.2 1075.9 391.3 1075.1 389.4 1074.3 387.5 1073.6 385.6 1072.8 383.6 1072.1 381.7 1071.4 379.7 1070.7 377.8 1070.1 375.8 1069.5 373.8 1068.9 371.8 1068.3 369.8 1067.8 367.8 1067.2 365.8 1066.7 363.8 1066.2 361.8 1065.7 359.7 1065.3 357.7 1064.9 355.7 1064.4 353.6 1064.1 351.6 1063.7 349.5 1063.3 347.5 1063.0 345.4 1062.6 343.4 1062.3 341.4 1062.1 339.3 1061.8 337.3 1061.5 335.2 1061.3 333.2 1061.1 331.1 1060.9 329.1 1060.7 327.0 1060.6 325.0 1060.5 322.9 1060.3 320.9 1060.3 318.8 1060.2 316.8 1060.2 314.8 1060.1 312.7 1060.1 310.7 1060.2 308.6 1060.2 306.6 1060.3 304.6 1060.4 302.5 1060.5 300.5 1060.6 298.5 1060.8 296.5 1061.0 294.5 1061.2 292.4 1061.5 290.4 1061.7 288.4 1062.0 286.4 1062.4 284.4 1062.7 282.4 1063.1 280.4 1063.5 278.5 1063.9 276.5 1064.4 274.5 1064.9 272.5 1065.4 270.6 1065.9 268.6 1066.5 266.6 1067.1 264.7 1067.8 262.8 1068.4 260.8 1069.1 258.9 1069.9 257.0 1070.7 255.1 1071.5 253.2 1072.4 251.3 1073.3 249.4 1074.2 247.5 1075.2 245.6 1076.2 243.8 1077.3 241.9 1078.4 240.1 1079.6 238.3 1080.8 236.5 1082.0 234.6 1083.4 232.9 1084.7 231.1 1086.1 229.3 1087.5 227.6 1089.0 225.9 1090.5 224.3 1092.1 222.7 1093.7 221.2 1095.3 219.8 1096.9 218.4 1098.6 217.2 1100.3 216.0 1102.0 214.9 1103.8 213.9 1105.6 213.0 1107.3 212.2 1109.1 211.6 1111.0 211.1 1112.8 210.6 1114.6 210.3 1116.5 210.1 1118.3 209.9 1120.2 209.9 1122.0 210.0 1123.9 210.1 1125.8 210.4 1127.6 210.7 1129.5 211.1 1131.4 211.6 1133.2 212.2 1135.1 212.8 1136.9 213.6 1138.7 214.4 1140.5 215.2 1142.3 216.1 1144.1 217.1 1145.9 218.2 1147.6 219.3 1149.4 220.5 1151.1 221.7 1152.8 222.9 1154.4 224.2 1156.0 225.6 1157.6 227.0 1159.2 228.4 1160.7 229.9 1162.2 231.4 1163.7 232.9 1165.1 234.5 1166.5 236.1 1167.9 237.7 1169.2 239.4 1170.5 241.0 1171.7 242.7 1172.9 244.4 1174.1 246.2 1175.2 247.9 1176.3 249.7 1177.3 251.5 1178.4 253.3 1179.3 255.1 1180.3 257.0 1181.2 258.9 1182.1 260.7 1182.9 262.7 1183.7 264.6 1184.5 266.5 1185.2 268.4 1185.9 270.4 1186.6 272.4 1187.2 274.4 1187.8 276.4 1188.4 278.4 1188.9 280.4 1189.4 282.4 1189.9 284.4 1190.3 286.5 1190.7 288.5 1191.1 290.6 1191.4 292.6 1191.7 294.7 1192.0 296.7 1192.2 298.8 1192.4 300.9 1192.6 303.0 1192.8 305.0 1192.9 307.1 1193.0 309.2 1193.0 311.3 1193.1 313.3 1193.1 315.4 1193.0 317.5 1193.0 319.5 1192.9 321.6 1192.8 323.6 1192.6 325.7 1192.4 327.7 1192.2 329.8 1192.0 331.8 1191.7 333.8 1191.4 335.8 1191.1 337.9 1190.8 339.9 1190.4 341.9 1190.0 343.8 1189.5 345.8 1189.1 347.8 1188.6 349.8 1188.0 351.7 1187.5 353.7 1186.9 355.6 1186.2 357.5 1185.6 359.4 1184.9 361.3 1184.2 363.2 1183.4 365.1 1182.7 367.0 1181.8 368.8 1181.0 370.7 1180.1 372.5 1179.2 374.3 1178.3 376.1 1177.3 377.9 1176.3 379.7 1175.3 381.4 1174.3 383.2 1173.2 384.9 1172.0 386.6 1170.9 388.3 1169.7 390.0 1168.5 391.6 1167.2 393.3 1165.9 394.9 1164.6 396.5 1163.3 398.1 1161.9 399.7 1160.5 401.3 1159.0 402.8 1157.6 404.3 1156.1 405.8 1154.5 407.3 1152.9 408.7 1151.3 410.1 1149.7 411.5 1148.0 412.9 1146.4 414.2 1144.6 415.4 1142.9 416.6 1141.1 417.8 1139.4 418.9 1137.6 420.0 1135.7 421.0 1133.9 421.9 1132.0 422.8 1130.1 423.6 1128.2 424.4 1126.3 425.0 1124.3 425.6 1122.4 426.2 1120.4 426.6 1118.4 426.9 1116.4 427.2 1114.4 427.3 1112.4 427.4 1110.4 427.4 1108.4 427.3 1106.4 427.1 1104.4 426.9 1102.4 426.5 1100.4 426.1 1098.5 425.6 1096.6 425.0 1094.7 424.3 1092.8 423.5 1091.0 422.7 1089.1 421.8 1087.3 420.8 1085.6 419.8 1083.9 418.7 1082.1 417.5 1080.5 416.3 1078.8 415.1 1077.2 413.7 1075.6 412.4 1074.1 411.0 1072.6 409.5 1071.1 408.0 1069.7 406.5 1068.2 404.9 1066.9 403.3 1065.5 401.7 1064.2 400.0 1063.0 398.4 1061.7 396.7 1060.6 395.0 1059.4 393.2 1058.3 391.5 1057.2 389.7 1056.2 387.9 1055.2 386.2 1054.2 384.3 1053.3 382.5 1052.3 380.7 1051.5 378.8 1050.6 377.0 1049.8 375.1 1049.0 373.2 1048.2 371.3 1047.5 369.4 1046.8 367.5 1046.1 365.5 1045.4 363.6 1044.8 361.6 1044.2 359.7 1043.6 357.7 1043.1 355.7 1042.5 353.7 1042.0 351.7 1041.5 349.7 1041.1 347.7 1040.6 345.7 1040.2 343.7 1039.8 341.7 1039.4 339.6 1039.1 337.6 1038.8 335.5 1038.5 333.5 1038.2 331.5 1038.0 329.4 1037.8 327.3 1037.6 325.3 1037.4 323.2 1037.2 321.2 1037.1 319.1 1037.0 317.0 1036.9 315.0 1036.9 312.9 1036.9 310.8 1036.9 308.8 1036.9 306.7 1036.9 304.6 1037.0 302.6 1037.1 300.5 1037.2 298.5 1037.3 296.4 1037.5 294.4 1037.7 292.3 1037.9 290.3 1038.1 288.3 1038.4 286.2 1038.6 284.2 1038.9 282.2 1039.3 280.2 1039.6 278.2 1040.0 276.1 1040.4 274.2 1040.8 272.2 1041.2 270.2 1041.7 268.2 1042.2 266.2 1042.7 264.3 1043.2 262.3 1043.8 260.3 1044.4 258.4 1045.0 256.5 1045.6 254.5 1046.3 252.6 1046.9 250.7 1047.6 248.8 1048.4 246.9 1049.1 245.0 1049.9 243.1 1050.7 241.2 1051.5 239.3 1052.3 237.5 1053.2 235.6 1054.1 233.8 1055.0 232.0 1055.9 230.1 1056.9 228.3 1057.9 226.5 1058.9 224.7 1059.9 222.9 1061.0 221.1 1062.0 219.4 1063.1 217.6 1064.3 215.8 1065.4 214.1 1066.6 212.4 1067.8 210.7 1069.0 208.9 1070.2 207.2 1071.5 205.6 1072.8 203.9 1074.1 202.2 1075.4 200.6 1076.8 198.9 1078.2 197.3 1079.6 195.7 1081.0 194.1 1082.4 192.5 1083.9 191.0 1085.4 189.5 1086.9 187.9 1088.4 186.5 1089.9 185.0 1091.5 183.5 1093.0 182.1 1094.6 180.7 1096.2 179.4 1097.9 178.0 1099.5 176.7 1101.2 175.4 1102.8 174.2 1104.5 173.0 1106.2 171.8 1107.9 170.6 1109.7 169.5 1111.4 168.4 1113.2 167.3 1114.9 166.3 1116.7 165.3 1118.5 164.4 1120.3 163.5 1122.1 162.6 1124.0 161.8 1125.8 161.0 1127.6 160.2 1129.5 159.5 1131.4 158.9 1133.2 158.3 1135.1 157.7 1137.0 157.2 1138.9 156.7 1140.8 156.3 1142.7 155.9 1144.6 155.6 1146.6 155.3 1148.5 155.1 1150.4 154.8 1152.4 154.7 1154.3 154.5 1156.3 154.4 1158.3 154.4 1160.2 154.4 1162.2 154.4 1164.2 154.4 1166.2 154.5 1168.2 154.6 1170.2 154.7 1172.2 154.9 1174.2 155.1 1176.2 155.3 1178.2 155.6 1180.2 155.8 1182.2 156.1 1184.3 156.4 1186.3 156.8 1188.3 157.1 1190.4 157.5 1192.4 157.9 1194.5 158.3 1196.5 158.8 1198.6 159.2 1200.6 159.7 1202.7 160.1 1204.7 160.6 1206.8 161.1 1208.8 161.6 1210.9 162.1 1213.0 162.6 1215.0 163.2 1217.1 163.7 1219.2 164.2 1221.2 164.8 1223.3 165.3 1225.4 165.9 1227.4 166.4 1229.5 167.0 1231.6 167.5 1233.7 168.0 1235.7 168.6 1237.8 169.1 1239.9 169.6 1241.9 170.1 1244.0 170.7 1246.1 171.1 1248.1 171.6 1250.2 172.1 1252.3 172.6 1254.3 173.0 1256.4 173.5 1258.4 173.9 1260.5 174.3 1262.5 174.7 1264.6 175.0 1266.6 175.4 1268.7 175.7 1270.7 176.0 1272.8 176.3 1274.8 176.6 1276.8 176.8 1278.8 177.0 1280.9 177.2Z" fill="none" stroke="#EE7B1A" stroke-width="2.6" stroke-linejoin="round"/>
<path d="M1264.8 216.4 1267.0 215.9 1269.3 215.4 1271.5 215.1 1273.8 214.8 1276.1 214.5 1278.4 214.4 1280.7 214.2 1283.0 214.2 1285.2 214.2 1287.5 214.3 1289.8 214.5 1292.1 214.7 1294.4 214.9 1296.6 215.3 1298.9 215.7 1301.1 216.2 1303.4 216.7 1305.6 217.3 1307.8 217.9 1310.0 218.7 1312.2 219.5 1314.3 220.3 1316.5 221.2 1318.6 222.2 1320.7 223.2 1322.8 224.3 1324.8 225.4 1326.8 226.6 1328.8 227.9" fill="none" stroke="#2A0A9A" stroke-width="2.8"/>
<path d="M1332.5 231.0L1312.4 227.3L1321.1 222.9L1322.4 213.3Z" fill="#0000FF"/>
<path d="M1125.0 159.1C1126.7 158.8 1131.3 157.6 1135.0 157.0C1138.7 156.4 1142.8 155.7 1147.0 155.3C1151.2 154.9 1155.8 154.7 1160.0 154.7C1164.2 154.7 1168.0 154.8 1172.0 155.1C1176.0 155.4 1180.8 155.9 1184.0 156.3C1187.2 156.7 1189.8 157.3 1191.0 157.5" fill="none" stroke="#2A0A9A" stroke-width="2.8"/>
<path d="M1198.1 159.1L1178.5 164.7L1184.3 156.9L1181.2 147.7Z" fill="#0000FF"/>
<path d="M1449.9 419.6C1448.2 419.6 1443.4 420.3 1439.4 419.6C1435.5 418.9 1430.1 417.0 1426.2 415.2C1422.3 413.4 1417.7 410.0 1416.0 409.0" fill="none" stroke="#2A0A9A" stroke-width="2.8"/>
<path d="M1400.5 393.0L1418.7 402.2L1409.2 404.0L1405.2 412.8Z" fill="#0000FF"/>
<ellipse cx="458.75" cy="915.2" rx="89.7" ry="87.1" fill="none" stroke="#06680A" stroke-width="2.6"/>
<path d="M269.1 806.6 269.7 806.1 270.4 805.6 271.0 805.2 271.6 804.7 272.2 804.2 272.8 803.7 273.5 803.2 274.1 802.7 274.7 802.3 275.4 801.8 276.0 801.3 276.7 800.9 277.3 800.4 277.9 799.9 278.6 799.5 279.3 799.0 279.9 798.6 280.6 798.1 281.2 797.7 281.9 797.3 282.5 796.8 283.2 796.4 283.9 796.0 284.6 795.6 285.2 795.2 285.9 794.8 286.6 794.4 287.3 794.0 287.9 793.6 288.6 793.2 289.3 792.8 290.0 792.4 290.7 792.0 291.4 791.7 292.1 791.3 292.8 790.9 293.5 790.6 294.2 790.2 294.9 789.9 295.6 789.5 296.3 789.2 297.0 788.8 297.7 788.5 298.4 788.2 299.1 787.9 299.8 787.6 300.6 787.3 301.3 787.0 302.0 786.7 302.7 786.4 303.4 786.1 304.2 785.8 304.9 785.5 305.6 785.3 306.3 785.0 307.1 784.7 307.8 784.5 308.5 784.3 309.3 784.0 310.0 783.8 310.7 783.6 311.5 783.3 312.2 783.1 313.0 782.9 313.7 782.7 314.5 782.5 315.2 782.3 315.9 782.2 316.7 782.0 317.4 781.8 318.2 781.6 318.9 781.5 319.7 781.3 320.4 781.2 321.2 781.1 322.0 780.9 322.7 780.8 323.5 780.7 324.2 780.6 325.0 780.4 325.7 780.3 326.5 780.2 327.3 780.2 328.0 780.1 328.8 780.0 329.6 779.9 330.3 779.8 331.1 779.8 331.9 779.7 332.6 779.7 333.4 779.6 334.2 779.6 335.0 779.5 335.7 779.5 336.5 779.4 337.3 779.4 338.0 779.4 338.8 779.4 339.6 779.4 340.4 779.4 341.2 779.4 341.9 779.4 342.7 779.4 343.5 779.4 344.3 779.4 345.1 779.4 345.9 779.4 346.6 779.5 347.4 779.5 348.2 779.5 349.0 779.6 349.8 779.6 350.6 779.7 351.4 779.7 352.2 779.8 353.0 779.8 353.7 779.9 354.5 779.9 355.3 780.0 356.1 780.1 356.9 780.2 357.7 780.2 358.5 780.3 359.3 780.4 360.1 780.5 360.9 780.6 361.7 780.7 362.5 780.8 363.3 780.9 364.1 781.0 364.9 781.1 365.7 781.2 366.5 781.3 367.3 781.4 368.1 781.6 368.9 781.7 369.7 781.8 370.5 781.9 371.3 782.0 372.1 782.2 372.9 782.3 373.7 782.4 374.5 782.6 375.3 782.7 376.1 782.9 377.0 783.0 377.8 783.2 378.6 783.3 379.4 783.4 380.2 783.6 381.0 783.8 381.8 783.9 382.6 784.1 383.4 784.2 384.2 784.4 385.0 784.5 385.9 784.7 386.7 784.9 387.5 785.0 388.3 785.2 389.1 785.4 389.9 785.5 390.7 785.7 391.5 785.9 392.4 786.0 393.2 786.2 394.0 786.4 394.8 786.5 395.6 786.7 396.4 786.9 397.2 787.1 398.0 787.2 398.9 787.4 399.7 787.6 400.5 787.8 401.3 788.0 402.1 788.1 402.9 788.3 403.7 788.5 404.6 788.7 405.4 788.8 406.2 789.0 407.0 789.2 407.8 789.4 408.6 789.5 409.4 789.7 410.3 789.9 411.1 790.1 411.9 790.2 412.7 790.4 413.5 790.6 414.3 790.8 415.1 790.9 416.0 791.1 416.8 791.3 417.6 791.5 418.4 791.6 419.2 791.8 420.0 792.0 420.8 792.1 421.6 792.3 422.5 792.5 423.3 792.6 424.1 792.8 424.9 792.9 425.7 793.1 426.5 793.3 427.3 793.4 428.1 793.6 428.9 793.7 429.8 793.9 430.6 794.0 431.4 794.2 432.2 794.3 433.0 794.4 433.8 794.6 434.6 794.7 435.4 794.9 436.2 795.0 437.0 795.1 437.8 795.2 438.6 795.4 439.5 795.5 440.3 795.6 441.1 795.7 441.9 795.9 442.7 796.0 443.5 796.1 444.3 796.2 445.1 796.3 445.9 796.4 446.7 796.5 447.5 796.6 448.3 796.7 449.1 796.8 449.9 796.9 450.7 796.9 451.5 797.0 452.3 797.1 453.1 797.2 453.9 797.2 454.7 797.3 455.5 797.4 456.3 797.4 456.3 797.4 457.1 797.5 457.8 797.5 458.6 797.6 459.4 797.6 460.2 797.7 461.0 797.7 461.8 797.7 462.6 797.8 463.4 797.8 464.2 797.8 465.0 797.8 465.8 797.8 466.5 797.9 467.3 797.9 468.1 797.9 468.9 797.9 469.7 797.9 470.5 797.9 471.3 797.9 472.0 797.9 472.8 797.9 473.6 797.8 474.4 797.8 475.2 797.8 476.0 797.8 476.8 797.8 477.5 797.7 478.3 797.7 479.1 797.7 479.9 797.6 480.7 797.6 481.5 797.6 482.2 797.5 483.0 797.5 483.8 797.5 484.6 797.4 485.4 797.4 486.2 797.3 486.9 797.3 487.7 797.2 488.5 797.2 489.3 797.1 490.1 797.0 490.9 797.0 491.6 796.9 492.4 796.9 493.2 796.8 494.0 796.7 494.8 796.7 495.6 796.6 496.3 796.5 497.1 796.5 497.9 796.4 498.7 796.3 499.5 796.3 500.3 796.2 501.1 796.1 501.9 796.0 502.6 796.0 503.4 795.9 504.2 795.8 505.0 795.7 505.8 795.7 506.6 795.6 507.4 795.5 508.2 795.4 509.0 795.4 509.8 795.3 510.6 795.2 511.4 795.1 512.1 795.0 512.9 795.0 513.7 794.9 514.5 794.8 515.3 794.7 516.1 794.6 516.9 794.6 517.7 794.5 518.5 794.4 519.3 794.3 520.1 794.2 520.9 794.2 521.7 794.1 522.6 794.0 523.4 793.9 524.2 793.9 525.0 793.8 525.8 793.7 526.6 793.6 527.4 793.6 528.2 793.5 529.0 793.4 529.8 793.4 530.7 793.3 531.5 793.2 532.3 793.2 533.1 793.1 533.9 793.0 534.7 793.0 535.6 792.9 536.4 792.9 537.2 792.8 538.0 792.7 538.9 792.7 539.7 792.6 540.5 792.6 541.4 792.5 542.2 792.5 543.0 792.5 543.8 792.4 544.7 792.4 545.5 792.3 546.3 792.3 547.2 792.3 548.0 792.2 548.8 792.2 549.7 792.2 550.5 792.2 551.3 792.1 552.2 792.1 553.0 792.1 553.8 792.1 554.7 792.1 555.5 792.1 556.4 792.1 557.2 792.1 558.0 792.1 558.9 792.1 559.7 792.1 560.5 792.1 561.4 792.1 562.2 792.1 563.0 792.1 563.9 792.1 564.7 792.2 565.5 792.2 566.4 792.2 567.2 792.3 568.0 792.3 568.8 792.3 569.7 792.4 570.5 792.4 571.3 792.5 572.1 792.5 573.0 792.6 573.8 792.7 574.6 792.7 575.4 792.8 576.2 792.9 577.1 793.0 577.9 793.1 578.7 793.2 579.5 793.3 580.3 793.3 581.1 793.5 581.9 793.6 582.7 793.7 583.5 793.8 584.4 793.9 585.2 794.0 586.0 794.2 586.7 794.3 587.5 794.4 588.3 794.6 589.1 794.7 589.9 794.9 590.7 795.1 591.5 795.2 592.3 795.4 593.1 795.6 593.8 795.7 594.6 795.9 595.4 796.1 596.2 796.3 596.9 796.5 597.7 796.7 598.4 796.9 599.2 797.2 600.0 797.4 600.7 797.6 601.5 797.9 602.2 798.1 603.0 798.3 603.7 798.6 604.4 798.9 605.2 799.1 605.9 799.4 606.6 799.7 607.4 800.0 608.1 800.2 608.8 800.5 609.5 800.8 610.2 801.2 611.0 801.5 611.7 801.8 612.4 802.1 613.1 802.4 613.8 802.8 614.5 803.1 615.1 803.5 615.8 803.8 616.5 804.2 617.2 804.6 617.9 804.9 618.5 805.3 619.2 805.7 619.9 806.1 620.5 806.5 621.2 806.9 621.8 807.3 622.5 807.7 623.1 808.1 623.8 808.5 624.4 808.9 625.1 809.4 625.7 809.8 626.3 810.2 627.0 810.7 627.6 811.1 628.2 811.6 628.8 812.0 629.4 812.5 630.0 812.9 630.6 813.4 631.2 813.9 631.8 814.4 632.4 814.8 633.0 815.3 633.6 815.8 634.2 816.3 634.8 816.8 635.3 817.3 635.9 817.8 636.5 818.3 637.0 818.8 637.6 819.3 638.1 819.8 638.7 820.4 639.2 820.9 639.8 821.4 640.3 822.0 640.9 822.5 641.4 823.0 641.9 823.6 642.4 824.1 643.0 824.7 643.5 825.2 644.0 825.8 644.5 826.3 645.0 826.9 645.5 827.4 646.0 828.0 646.5 828.6 647.0 829.1 647.5 829.7 647.9 830.3 648.4 830.9" fill="none" stroke="#EE7B1A" stroke-width="2.6" stroke-linejoin="round"/>
<path d="M648.0 990.5 647.4 991.0 646.9 991.5 646.3 992.0 645.6 992.4 645.0 992.9 644.4 993.4 643.8 993.8 643.2 994.3 642.5 994.7 641.9 995.2 641.2 995.6 640.6 996.0 639.9 996.4 639.2 996.8 638.5 997.2 637.9 997.6 637.2 998.0 636.5 998.3 635.8 998.7 635.1 999.0 634.4 999.4 633.7 999.7 633.0 1000.0 632.2 1000.3 631.5 1000.6 630.8 1000.9 630.1 1001.1 629.3 1001.4 628.6 1001.6 627.8 1001.8 627.1 1002.0 626.3 1002.2 625.6 1002.4 624.8 1002.6 624.1 1002.7 623.3 1002.9 622.5 1003.0 621.8 1003.1 621.0 1003.2 620.2 1003.3 619.5 1003.3 618.7 1003.4 617.9 1003.4 617.1 1003.4 616.3 1003.4 615.6 1003.4 614.8 1003.4 614.0 1003.3 613.2 1003.3 612.4 1003.2 611.7 1003.2 610.9 1003.1 610.1 1003.0 609.3 1002.8 608.5 1002.7 607.8 1002.6 607.0 1002.4 606.2 1002.2 605.4 1002.1 604.7 1001.9 603.9 1001.7 603.1 1001.4 602.4 1001.2 601.6 1001.0 600.9 1000.7 600.1 1000.5 599.4 1000.2 598.6 999.9 597.9 999.6 597.1 999.3 596.4 999.0 595.7 998.7 595.0 998.4 594.2 998.1 593.5 997.7 592.8 997.4 592.1 997.0 591.4 996.6 590.7 996.2 590.0 995.8 589.4 995.5 588.7 995.1 588.0 994.6 587.4 994.2 586.7 993.8 586.1 993.4 585.4 992.9 584.8 992.5 584.2 992.0 583.6 991.6 583.0 991.1 582.4 990.6 581.8 990.2 581.2 989.7 580.6 989.2 580.0 988.7 579.5 988.2 578.9 987.7 578.4 987.2 577.8 986.7 577.3 986.1 576.8 985.6 576.2 985.1 575.7 984.5 575.2 984.0 574.7 983.5 574.2 982.9 573.7 982.3 573.2 981.8 572.7 981.2 572.2 980.7 571.8 980.1 571.3 979.5 570.8 978.9 570.4 978.4 569.9 977.8 569.5 977.2 569.0 976.6 568.6 976.0 568.2 975.4 567.7 974.8 567.3 974.2 566.9 973.6 566.5 973.0 566.1 972.4 565.7 971.8 565.3 971.2 564.9 970.6 564.5 970.0 564.1 969.3 563.7 968.7 563.3 968.1 562.9 967.5 562.5 966.9 562.2 966.2 561.8 965.6 561.4 965.0 561.1 964.3 560.7 963.7 560.4 963.1 560.0 962.4 559.7 961.8 559.4 961.2 559.0 960.5 558.7 959.9 558.4 959.2 558.1 958.6 557.7 958.0 557.4 957.3 557.1 956.7 556.8 956.0 556.5 955.4 556.2 954.7 555.9 954.0 555.6 953.4 555.4 952.7 555.1 952.1 554.8 951.4 554.5 950.8 554.3 950.1 554.0 949.4 553.8 948.8 553.5 948.1 553.3 947.4 553.0 946.8 552.8 946.1 552.6 945.4 552.3 944.8 552.1 944.1 551.9 943.4 551.7 942.7 551.5 942.1 551.3 941.4 551.1 940.7 550.9 940.0 550.7 939.4 550.5 938.7 550.3 938.0 550.1 937.3 550.0 936.6 549.8 936.0 549.6 935.3 549.5 934.6 549.3 933.9 549.2 933.2 549.0 932.5 548.9 931.8 548.7 931.2 548.6 930.5 548.5 929.8 548.4 929.1 548.3 928.4 548.1 927.7 548.0 927.0 547.9 926.3 547.8 925.6 547.8 924.9 547.7 924.3 547.6 923.6 547.5 922.9 547.4 922.2 547.4 921.5 547.3 920.8 547.3 920.1 547.2 919.4 547.2 918.7 547.1 918.0 547.1 917.3 547.1 916.6 547.0 915.9 547.0 915.2 547.0 914.5 547.0 913.8 547.0 913.1 547.0 912.4 547.0 911.7 547.0 911.1 547.0 910.4 547.0 909.7 547.1 909.0 547.1 908.3 547.1 907.6 547.2 906.9 547.2 906.2 547.3 905.5 547.3 904.8 547.4 904.1 547.5 903.4 547.5 902.7 547.6 902.0 547.7 901.3 547.8 900.6 547.9 899.9 548.0 899.2 548.1 898.5 548.2 897.9 548.3 897.2 548.4 896.5 548.6 895.8 548.7 895.1 548.8 894.4 549.0 893.7 549.1 893.0 549.3 892.3 549.4 891.7 549.6 891.0 549.8 890.3 550.0 889.6 550.1 888.9 550.3 888.2 550.5 887.5 550.7 886.9 550.9 886.2 551.1 885.5 551.3 884.8 551.5 884.1 551.8 883.5 552.0 882.8 552.2 882.1 552.5 881.5 552.7 880.8 553.0 880.1 553.2 879.4 553.5 878.8 553.7 878.1 554.0 877.5 554.3 876.8 554.6 876.1 554.9 875.5 555.1 874.8 555.4 874.2 555.7 873.5 556.0 872.9 556.4 872.2 556.7 871.6 557.0 870.9 557.3 870.3 557.6 869.6 558.0 869.0 558.3 868.3 558.7 867.7 559.0 867.1 559.4 866.4 559.7 865.8 560.1 865.2 560.5 864.6 560.8 863.9 561.2 863.3 561.6 862.7 562.0 862.1 562.4 861.5 562.8 860.9 563.2 860.2 563.6 859.6 564.0 859.0 564.4 858.4 564.9 857.8 565.3 857.2 565.7 856.6 566.2 856.1 566.6 855.5 567.1 854.9 567.5 854.3 568.0 853.7 568.4 853.1 568.9 852.6 569.4 852.0 569.8 851.4 570.3 850.9 570.8 850.3 571.3 849.8 571.8 849.2 572.3 848.6 572.8 848.1 573.3 847.6 573.8 847.0 574.3 846.5 574.8 845.9 575.4 845.4 575.9 844.9 576.4 844.4 577.0 843.8 577.5 843.3 578.1 842.8 578.6 842.3 579.2 841.8 579.7 841.3 580.3 840.8 580.9 840.3 581.5 839.8 582.0 839.3 582.6 838.9 583.2 838.4 583.8 837.9 584.4 837.4 585.0 837.0 585.6 836.5 586.2 836.1 586.8 835.6 587.5 835.2 588.1 834.7 588.7 834.3 589.3 833.8 590.0 833.4 590.6 833.0 591.3 832.6 591.9 832.1 592.6 831.7 593.2 831.3 593.9 830.9 594.6 830.5 595.2 830.1 595.9 829.7 596.6 829.3 597.3 829.0 598.0 828.6 598.6 828.2 599.3 827.9 600.0 827.5 600.7 827.2 601.4 826.8 602.2 826.5 602.9 826.1 603.6 825.8 604.3 825.5 605.0 825.2 605.8 824.9 606.5 824.6 607.2 824.3 608.0 824.0 608.7 823.8 609.4 823.5 610.2 823.3 610.9 823.0 611.7 822.8 612.4 822.6 613.2 822.4 613.9 822.2 614.7 822.0 615.4 821.8 616.2 821.6 617.0 821.5 617.7 821.3 618.5 821.2 619.3 821.0 620.0 820.9 620.8 820.8 621.6 820.7 622.4 820.7 623.1 820.6 623.9 820.6 624.7 820.5 625.5 820.5 626.3 820.5 627.0 820.5 627.8 820.5 628.6 820.5 629.4 820.6 630.2 820.6 631.0 820.7 631.8 820.8 632.5 820.9 633.3 821.0 634.1 821.1 634.9 821.3 635.7 821.4 636.5 821.6 637.3 821.8 638.1 822.0 638.8 822.2 639.6 822.4 640.4 822.7 641.2 822.9 641.9 823.2 642.7 823.4 643.5 823.7 644.2 824.0 645.0 824.3 645.8 824.6 646.5 824.9 647.2 825.2 648.0 825.5" fill="none" stroke="#EE7B1A" stroke-width="2.6" stroke-linejoin="round"/>
<path d="M648.1 1024.0 647.5 1024.5 646.9 1025.0 646.3 1025.5 645.8 1026.0 645.2 1026.5 644.6 1027.0 644.0 1027.5 643.4 1028.0 642.8 1028.5 642.2 1028.9 641.6 1029.4 641.0 1029.9 640.4 1030.4 639.8 1030.8 639.2 1031.3 638.5 1031.7 637.9 1032.2 637.3 1032.6 636.7 1033.1 636.0 1033.5 635.4 1034.0 634.8 1034.4 634.1 1034.8 633.5 1035.3 632.8 1035.7 632.2 1036.1 631.5 1036.5 630.9 1036.9 630.2 1037.3 629.5 1037.7 628.9 1038.1 628.2 1038.5 627.5 1038.9 626.8 1039.2 626.1 1039.6 625.4 1040.0 624.8 1040.3 624.1 1040.7 623.4 1041.0 622.6 1041.4 621.9 1041.7 621.2 1042.0 620.5 1042.4 619.8 1042.7 619.1 1043.0 618.3 1043.3 617.6 1043.6 616.8 1043.9 616.1 1044.2 615.4 1044.4 614.6 1044.7 613.8 1045.0 613.1 1045.2 612.3 1045.5 611.6 1045.7 610.8 1046.0 610.0 1046.2 609.2 1046.5 608.5 1046.7 607.7 1046.9 606.9 1047.1 606.1 1047.3 605.3 1047.5 604.5 1047.7 603.7 1047.9 603.0 1048.1 602.2 1048.3 601.4 1048.4 600.6 1048.6 599.8 1048.8 599.0 1048.9 598.2 1049.1 597.4 1049.2 596.6 1049.3 595.7 1049.5 594.9 1049.6 594.1 1049.7 593.3 1049.8 592.5 1049.9 591.7 1050.0 590.9 1050.1 590.1 1050.2 589.3 1050.3 588.5 1050.4 587.7 1050.5 586.9 1050.5 586.1 1050.6 585.3 1050.7 584.5 1050.7 583.7 1050.8 582.9 1050.8 582.1 1050.9 581.2 1050.9 580.4 1050.9 579.6 1050.9 578.8 1051.0 578.0 1051.0 577.2 1051.0 576.4 1051.0 575.6 1051.0 574.8 1051.0 574.0 1051.0 573.2 1051.0 572.4 1051.0 571.6 1050.9 570.8 1050.9 570.0 1050.9 569.2 1050.9 568.4 1050.8 567.6 1050.8 566.8 1050.7 566.0 1050.7 565.2 1050.6 564.4 1050.6 563.6 1050.5 562.8 1050.5 562.0 1050.4 561.2 1050.3 560.4 1050.2 559.6 1050.2 558.8 1050.1 558.0 1050.0 557.2 1049.9 556.4 1049.8 555.6 1049.7 554.8 1049.6 554.0 1049.5 553.2 1049.4 552.5 1049.3 551.7 1049.2 550.9 1049.1 550.1 1049.0 549.3 1048.9 548.5 1048.8 547.7 1048.6 546.9 1048.5 546.1 1048.4 545.3 1048.3 544.5 1048.1 543.7 1048.0 542.9 1047.9 542.1 1047.7 541.3 1047.6 540.5 1047.5 539.7 1047.3 538.9 1047.2 538.1 1047.0 537.3 1046.9 536.5 1046.7 535.8 1046.6 535.0 1046.4 534.2 1046.3 533.4 1046.1 532.6 1046.0 531.8 1045.8 531.0 1045.6 530.2 1045.5 529.4 1045.3 528.6 1045.1 527.8 1045.0 527.0 1044.8 526.2 1044.6 525.4 1044.5 524.6 1044.3 523.9 1044.1 523.1 1044.0 522.3 1043.8 521.5 1043.6 520.7 1043.5 519.9 1043.3 519.1 1043.1 518.3 1042.9 517.5 1042.8 516.7 1042.6 515.9 1042.4 515.1 1042.2 514.3 1042.1 513.6 1041.9 512.8 1041.7 512.0 1041.5 511.2 1041.4 510.4 1041.2 509.6 1041.0 508.8 1040.8 508.0 1040.7 507.2 1040.5 506.4 1040.3 505.6 1040.2 504.8 1040.0 504.0 1039.8 503.3 1039.6 502.5 1039.5 501.7 1039.3 500.9 1039.1 500.1 1039.0 499.3 1038.8 498.5 1038.6 497.7 1038.5 496.9 1038.3 496.1 1038.2 495.3 1038.0 494.6 1037.8 493.8 1037.7 493.0 1037.5 492.2 1037.4 491.4 1037.2 490.6 1037.1 489.8 1036.9 489.0 1036.8 488.2 1036.6 487.4 1036.5 486.6 1036.3 485.8 1036.2 485.1 1036.1 484.3 1035.9 483.5 1035.8 482.7 1035.7 481.9 1035.5 481.1 1035.4 480.3 1035.3 479.5 1035.2 478.7 1035.1 477.9 1034.9 477.1 1034.8 476.3 1034.7 475.5 1034.6 474.8 1034.5 474.0 1034.4 473.2 1034.3 472.4 1034.2 471.6 1034.1 470.8 1034.0 470.0 1034.0 469.2 1033.9 468.4 1033.8 467.6 1033.7 466.8 1033.6 466.0 1033.6 465.2 1033.5 464.5 1033.4 463.7 1033.4 462.9 1033.3 462.1 1033.3 461.3 1033.2 460.5 1033.2 459.7 1033.1 458.9 1033.1 458.1 1033.0 457.3 1033.0 456.5 1033.0 455.7 1032.9 454.9 1032.9 454.1 1032.9 453.3 1032.9 452.5 1032.9 451.7 1032.8 450.9 1032.8 450.2 1032.8 449.4 1032.8 448.6 1032.8 447.8 1032.8 447.0 1032.8 446.2 1032.8 445.4 1032.8 444.6 1032.8 443.8 1032.8 443.0 1032.8 442.2 1032.8 441.4 1032.8 440.6 1032.9 439.8 1032.9 439.0 1032.9 438.2 1032.9 437.4 1032.9 436.6 1033.0 435.8 1033.0 435.0 1033.0 434.2 1033.1 433.4 1033.1 432.6 1033.1 431.8 1033.2 431.0 1033.2 430.2 1033.2 429.4 1033.3 428.6 1033.3 427.8 1033.4 427.0 1033.4 426.2 1033.5 425.4 1033.5 424.6 1033.6 423.7 1033.6 422.9 1033.7 422.1 1033.7 421.3 1033.8 420.5 1033.8 419.7 1033.9 418.9 1034.0 418.1 1034.0 417.3 1034.1 416.5 1034.2 415.7 1034.2 414.9 1034.3 414.1 1034.3 413.2 1034.4 412.4 1034.5 411.6 1034.5 410.8 1034.6 410.0 1034.7 409.2 1034.8 408.4 1034.8 407.6 1034.9 406.7 1035.0 405.9 1035.1 405.1 1035.1 404.3 1035.2 403.5 1035.3 402.7 1035.4 401.8 1035.4 401.0 1035.5 400.2 1035.6 399.4 1035.7 398.6 1035.7 397.8 1035.8 396.9 1035.9 396.1 1036.0 395.3 1036.0 394.5 1036.1 393.7 1036.2 392.8 1036.3 392.0 1036.4 391.2 1036.4 390.4 1036.5 389.5 1036.6 388.7 1036.7 387.9 1036.7 387.1 1036.8 386.2 1036.9 385.4 1037.0 384.6 1037.0 383.8 1037.1 382.9 1037.2 382.1 1037.2 381.3 1037.3 380.5 1037.4 379.6 1037.4 378.8 1037.5 378.0 1037.6 377.2 1037.6 376.3 1037.7 375.5 1037.7 374.7 1037.8 373.9 1037.8 373.0 1037.9 372.2 1037.9 371.4 1038.0 370.6 1038.0 369.7 1038.1 368.9 1038.1 368.1 1038.2 367.3 1038.2 366.4 1038.2 365.6 1038.3 364.8 1038.3 364.0 1038.3 363.2 1038.4 362.3 1038.4 361.5 1038.4 360.7 1038.4 359.9 1038.4 359.1 1038.4 358.2 1038.4 357.4 1038.4 356.6 1038.4 355.8 1038.4 355.0 1038.4 354.2 1038.4 353.4 1038.4 352.5 1038.4 351.7 1038.4 350.9 1038.4 350.1 1038.3 349.3 1038.3 348.5 1038.3 347.7 1038.2 346.9 1038.2 346.1 1038.1 345.3 1038.1 344.5 1038.0 343.7 1038.0 342.9 1037.9 342.1 1037.8 341.3 1037.8 340.5 1037.7 339.7 1037.6 338.9 1037.5 338.1 1037.4 337.3 1037.3 336.5 1037.2 335.7 1037.1 334.9 1037.0 334.2 1036.9 333.4 1036.8 332.6 1036.6 331.8 1036.5 331.0 1036.4 330.2 1036.2 329.5 1036.1 328.7 1035.9 327.9 1035.8 327.1 1035.6 326.4 1035.4 325.6 1035.2 324.8 1035.1 324.1 1034.9 323.3 1034.7 322.5 1034.5 321.8 1034.3 321.0 1034.1 320.3 1033.8 319.5 1033.6 318.8 1033.4 318.0 1033.1 317.3 1032.9 316.5 1032.6 315.8 1032.4 315.0 1032.1 314.3 1031.9 313.5 1031.6 312.8 1031.3 312.1 1031.0 311.3 1030.7 310.6 1030.4 309.9 1030.1 309.2 1029.8 308.4 1029.5 307.7 1029.2 307.0 1028.9 306.3 1028.6 305.6 1028.2 304.9 1027.9 304.1 1027.5 303.4 1027.2 302.7 1026.8 302.0 1026.5 301.3 1026.1 300.7 1025.8 300.0 1025.4 299.3 1025.0 298.6 1024.6 297.9 1024.2 297.2 1023.8 296.6 1023.4 295.9 1023.0 295.2 1022.6 294.6 1022.2 293.9 1021.8 293.2 1021.4 292.6 1021.0 291.9 1020.6 291.3 1020.1 290.6 1019.7 290.0 1019.2 289.4 1018.8 288.7 1018.4 288.1 1017.9 287.5 1017.4 286.8 1017.0 286.2 1016.5 285.6 1016.1 285.0 1015.6 284.4 1015.1 283.8 1014.6 283.2 1014.1 282.6 1013.7 282.0 1013.2 281.4 1012.7 280.8 1012.2 280.2 1011.7 279.7 1011.2 279.1 1010.7 278.5 1010.2 277.9 1009.7 277.4 1009.1 276.8 1008.6 276.3 1008.1 275.7 1007.6 275.2 1007.0 274.7 1006.5 274.1 1006.0 273.6 1005.4 273.1 1004.9 272.6 1004.3 272.0 1003.8 271.5 1003.3 271.0 1002.7 270.5 1002.1 270.0 1001.6 269.5 1001.0 269.1 1000.5" fill="none" stroke="#EE7B1A" stroke-width="2.6" stroke-linejoin="round"/>
<path d="M269.4 839.7 270.0 839.2 270.6 838.6 271.2 838.1 271.8 837.6 272.5 837.1 273.1 836.6 273.7 836.1 274.4 835.6 275.0 835.1 275.7 834.7 276.3 834.2 277.0 833.8 277.7 833.4 278.3 833.0 279.0 832.6 279.7 832.2 280.4 831.8 281.1 831.5 281.7 831.1 282.4 830.8 283.1 830.5 283.8 830.2 284.5 829.9 285.2 829.6 285.9 829.4 286.6 829.1 287.3 828.9 288.1 828.7 288.8 828.5 289.5 828.3 290.2 828.2 290.9 828.0 291.6 827.9 292.4 827.8 293.1 827.6 293.8 827.5 294.5 827.5 295.3 827.4 296.0 827.3 296.7 827.3 297.5 827.3 298.2 827.3 298.9 827.2 299.7 827.3 300.4 827.3 301.1 827.3 301.9 827.4 302.6 827.4 303.3 827.5 304.1 827.6 304.8 827.7 305.5 827.8 306.3 827.9 307.0 828.0 307.7 828.1 308.5 828.3 309.2 828.4 309.9 828.6 310.6 828.8 311.4 829.0 312.1 829.2 312.8 829.4 313.5 829.6 314.3 829.9 315.0 830.1 315.7 830.4 316.4 830.6 317.1 830.9 317.9 831.2 318.6 831.4 319.3 831.7 320.0 832.1 320.7 832.4 321.4 832.7 322.1 833.0 322.8 833.4 323.5 833.7 324.2 834.1 324.8 834.4 325.5 834.8 326.2 835.2 326.9 835.6 327.6 836.0 328.2 836.4 328.9 836.8 329.6 837.2 330.2 837.6 330.9 838.0 331.5 838.5 332.2 838.9 332.8 839.4 333.4 839.8 334.1 840.3 334.7 840.7 335.3 841.2 335.9 841.7 336.6 842.2 337.2 842.6 337.8 843.1 338.4 843.6 339.0 844.1 339.5 844.6 340.1 845.1 340.7 845.7 341.3 846.2 341.8 846.7 342.4 847.2 342.9 847.8 343.5 848.3 344.0 848.8 344.6 849.4 345.1 849.9 345.6 850.5 346.1 851.0 346.6 851.6 347.1 852.1 347.6 852.7 348.1 853.3 348.6 853.8 349.1 854.4 349.6 855.0 350.0 855.6 350.5 856.1 351.0 856.7 351.4 857.3 351.9 857.9 352.3 858.5 352.7 859.1 353.2 859.7 353.6 860.3 354.0 860.9 354.4 861.5 354.8 862.1 355.2 862.7 355.6 863.4 356.0 864.0 356.4 864.6 356.8 865.2 357.1 865.9 357.5 866.5 357.8 867.1 358.2 867.7 358.5 868.4 358.9 869.0 359.2 869.7 359.6 870.3 359.9 871.0 360.2 871.6 360.5 872.3 360.8 872.9 361.1 873.6 361.4 874.2 361.7 874.9 362.0 875.5 362.3 876.2 362.6 876.9 362.8 877.5 363.1 878.2 363.4 878.9 363.6 879.5 363.9 880.2 364.1 880.9 364.4 881.6 364.6 882.2 364.8 882.9 365.0 883.6 365.3 884.3 365.5 885.0 365.7 885.7 365.9 886.3 366.1 887.0 366.3 887.7 366.5 888.4 366.7 889.1 366.8 889.8 367.0 890.5 367.2 891.2 367.3 891.9 367.5 892.6 367.6 893.3 367.8 894.0 367.9 894.7 368.1 895.4 368.2 896.1 368.3 896.8 368.4 897.5 368.6 898.2 368.7 898.9 368.8 899.6 368.9 900.3 369.0 901.0 369.1 901.7 369.2 902.4 369.2 903.1 369.3 903.8 369.4 904.5 369.4 905.2 369.5 905.9 369.6 906.6 369.6 907.3 369.7 908.0 369.7 908.7 369.8 909.5 369.8 910.2 369.8 910.9 369.8 911.6 369.9 912.3 369.9 913.0 369.9 913.7 369.9 914.4 369.9 915.1 369.9 915.8 369.9 916.5 369.9 917.2 369.9 917.9 369.8 918.6 369.8 919.3 369.8 920.0 369.7 920.7 369.7 921.4 369.7 922.1 369.6 922.8 369.6 923.5 369.5 924.2 369.4 924.9 369.4 925.6 369.3 926.3 369.2 927.0 369.1 927.7 369.0 928.4 369.0 929.1 368.9 929.8 368.8 930.5 368.7 931.2 368.5 931.8 368.4 932.5 368.3 933.2 368.2 933.9 368.1 934.6 367.9 935.3 367.8 936.0 367.7 936.6 367.5 937.3 367.4 938.0 367.2 938.7 367.0 939.3 366.9 940.0 366.7 940.7 366.5 941.4 366.3 942.0 366.2 942.7 366.0 943.4 365.8 944.1 365.6 944.7 365.4 945.4 365.2 946.1 365.0 946.7 364.7 947.4 364.5 948.0 364.3 948.7 364.1 949.4 363.8 950.0 363.6 950.7 363.3 951.3 363.1 952.0 362.8 952.6 362.6 953.3 362.3 953.9 362.0 954.6 361.8 955.2 361.5 955.8 361.2 956.5 360.9 957.1 360.6 957.8 360.3 958.4 360.0 959.0 359.7 959.7 359.4 960.3 359.1 960.9 358.7 961.5 358.4 962.2 358.1 962.8 357.7 963.4 357.4 964.0 357.1 964.6 356.7 965.3 356.3 965.9 356.0 966.5 355.6 967.1 355.2 967.7 354.9 968.3 354.5 968.9 354.1 969.5 353.7 970.1 353.3 970.7 352.9 971.3 352.5 971.9 352.1 972.5 351.7 973.1 351.2 973.7 350.8 974.2 350.4 974.8 350.0 975.4 349.5 976.0 349.1 976.6 348.6 977.1 348.2 977.7 347.7 978.3 347.2 978.8 346.8 979.4 346.3 979.9 345.8 980.5 345.3 981.1 344.8 981.6 344.3 982.2 343.8 982.7 343.3 983.3 342.8 983.8 342.3 984.3 341.8 984.9 341.2 985.4 340.7 985.9 340.2 986.5 339.6 987.0 339.1 987.5 338.5 988.0 337.9 988.6 337.4 989.1 336.8 989.6 336.2 990.1 335.7 990.6 335.1 991.1 334.5 991.6 333.9 992.1 333.3 992.6 332.7 993.1 332.1 993.6 331.5 994.0 330.8 994.5 330.2 995.0 329.6 995.5 329.0 995.9 328.3 996.4 327.7 996.9 327.0 997.3 326.4 997.8 325.7 998.2 325.1 998.6 324.4 999.1 323.7 999.5 323.1 999.9 322.4 1000.3 321.7 1000.7 321.0 1001.1 320.3 1001.5 319.7 1001.9 319.0 1002.3 318.3 1002.6 317.6 1003.0 316.8 1003.4 316.1 1003.7 315.4 1004.0 314.7 1004.4 314.0 1004.7 313.3 1005.0 312.5 1005.3 311.8 1005.6 311.1 1005.9 310.3 1006.2 309.6 1006.5 308.9 1006.7 308.1 1007.0 307.4 1007.2 306.6 1007.5 305.9 1007.7 305.1 1007.9 304.3 1008.1 303.6 1008.3 302.8 1008.5 302.1 1008.6 301.3 1008.8 300.5 1008.9 299.7 1009.1 299.0 1009.2 298.2 1009.3 297.4 1009.4 296.6 1009.5 295.9 1009.6 295.1 1009.7 294.3 1009.7 293.5 1009.7 292.7 1009.8 291.9 1009.8 291.1 1009.8 290.3 1009.8 289.5 1009.8 288.7 1009.7 288.0 1009.7 287.2 1009.7 286.4 1009.6 285.6 1009.5 284.8 1009.4 284.0 1009.3 283.2 1009.2 282.4 1009.1 281.7 1009.0 280.9 1008.8 280.1 1008.7 279.3 1008.5 278.6 1008.3 277.8 1008.1 277.0 1007.9 276.3 1007.7 275.5 1007.5 274.8 1007.3 274.0 1007.0 273.3 1006.8 272.5 1006.5 271.8 1006.2 271.1 1005.9 270.3 1005.7 269.6 1005.4" fill="none" stroke="#EE7B1A" stroke-width="2.6" stroke-linejoin="round"/>
<path d="M215.1 915.9C216.6 916.2 221.1 916.6 224.2 917.8C227.3 919.0 230.6 920.7 233.8 923.0C237.0 925.3 240.7 928.7 243.4 931.7C246.1 934.8 248.0 937.6 250.1 941.3C252.2 945.0 254.1 949.5 255.9 953.8C257.7 958.1 259.1 962.6 260.7 967.2C262.3 971.9 264.2 977.4 265.5 981.7C266.8 986.0 267.7 990.2 268.4 993.2C269.1 996.2 269.4 998.9 269.6 1000.0" fill="none" stroke="#EE7B1A" stroke-width="2.6"/>
<path d="M702.4 914.5C700.9 914.2 696.4 913.8 693.3 912.6C690.2 911.4 686.9 909.7 683.7 907.4C680.5 905.1 676.8 901.8 674.1 898.7C671.4 895.7 669.5 892.8 667.4 889.1C665.3 885.4 663.4 880.9 661.6 876.6C659.8 872.3 658.4 867.9 656.8 863.2C655.2 858.6 653.3 853.0 652.0 848.7C650.7 844.4 649.8 840.2 649.1 837.2C648.4 834.2 648.1 831.5 647.9 830.4" fill="none" stroke="#EE7B1A" stroke-width="2.6"/>
<path d="M238.6 917.3C239.7 918.9 243.1 923.1 245.3 926.9C247.6 930.7 250.0 935.8 252.1 940.3C254.2 944.8 256.1 949.3 257.8 953.8C259.6 958.3 261.0 962.1 262.6 967.2C264.2 972.3 266.3 979.7 267.4 984.5C268.5 989.3 269.1 994.1 269.4 996.0" fill="none" stroke="#EE7B1A" stroke-width="2.6"/>
<path d="M678.9 913.1C677.8 911.5 674.5 907.3 672.2 903.5C670.0 899.7 667.5 894.6 665.4 890.1C663.3 885.6 661.5 881.1 659.7 876.6C658.0 872.1 656.5 868.3 654.9 863.2C653.3 858.1 651.2 850.7 650.1 845.9C649.0 841.1 648.4 836.3 648.1 834.4" fill="none" stroke="#EE7B1A" stroke-width="2.6"/>
<path d="M215.1 915.6H269.4M702.4 914.8H648.1" stroke="#EE7B1A" stroke-width="2.6"/>
<path d="M268.9 915.6V1138M648.6 1138V914.8" stroke="#000" stroke-width="1.6" stroke-dasharray="3 4.5"/>
<path d="M268.9 805.6V858" stroke="#EE7B1A" stroke-width="1.3"/>
<path d="M268.9 915.6V866" stroke="#2A0A9A" stroke-width="1.3"/>
<path d="M268.9 856.5L275.2 870.5L268.9 865.5L262.6 870.5Z" fill="#0000FF"/>
<path d="M648.6 914.6V964" stroke="#2A0A9A" stroke-width="1.3"/>
<path d="M648.6 973.0L642.3 959.0L648.6 964.0L654.9 959.0Z" fill="#0000FF"/>
<path d="M317.6 781.1C319.7 780.8 325.6 779.5 330.0 779.0C334.4 778.5 339.7 778.0 344.0 778.0C348.3 778.0 352.7 778.6 356.0 779.0C359.3 779.4 362.7 780.0 364.0 780.2" fill="none" stroke="#2A0A9A" stroke-width="2.8"/>
<path d="M377.0 781.3L357.7 787.9L363.1 779.8L359.5 770.8Z" fill="#0000FF"/>
<path d="M456.5 828.1 458.2 828.1 459.9 828.1 461.6 828.1 463.3 828.2 465.0 828.3 466.6 828.4 468.3 828.6 470.0 828.8 471.7 829.0 473.4 829.3 475.0 829.5 476.7 829.9 478.3 830.2 480.0 830.6 481.6 831.0 483.3 831.4 484.9 831.9 486.5 832.4 488.1 832.9 489.7 833.4 491.3 834.0 492.8 834.6 494.4 835.3 496.0 835.9 497.5 836.6 499.0 837.4 500.5 838.1 502.0 838.9 503.5 839.7" fill="none" stroke="#2A0A9A" stroke-width="2.8"/>
<path d="M512.5 845.5L492.1 844.5L500.1 839.0L500.1 829.3Z" fill="#0000FF"/>
<text x="272.5" y="1120.8" style="font-size:40px">−<tspan style="font-style:italic">y</tspan><tspan dy="10.5" style="font-size:27px">c</tspan></text>
<text x="656.5" y="1120.8" style="font-size:40px"><tspan style="font-style:italic">y</tspan><tspan dy="10.5" style="font-size:27px">c</tspan></text>
<path d="M1161.0 824.2C1170.8 824.6 1200.2 825.6 1220.0 826.3C1239.8 827.0 1258.3 827.4 1280.0 828.2C1301.7 829.0 1330.8 830.2 1350.0 831.0C1369.2 831.8 1385.7 832.7 1395.0 833.2C1404.3 833.7 1403.4 833.7 1406.0 834.0C1408.6 834.3 1410.4 834.5 1410.4 834.8C1410.4 835.1 1411.1 835.3 1406.0 835.6C1400.9 835.9 1392.2 836.2 1380.0 836.6C1367.8 837.0 1349.2 837.6 1332.5 838.2C1315.8 838.8 1300.4 839.7 1280.0 840.4C1259.6 841.1 1231.0 841.7 1210.0 842.6C1189.0 843.5 1163.3 845.2 1154.0 845.7" fill="none" stroke="#06680A" stroke-width="2.6" stroke-linejoin="round"/>
<path d="M1154 845.7L1161 824.2" stroke="#0A14A8" stroke-width="2.6"/>
<path d="M1153.6 846.8L1153.6 828.0L1158.3 836.8L1168.1 834.8Z" fill="#0000FF"/>
<path d="M1208.2 842.8L1255 840.8" stroke="#0A14A8" stroke-width="2.8"/>
<path d="M1264.5 840.4L1247.4 849.3L1253.0 840.9L1246.7 833.0Z" fill="#0000FF"/>
<path d="M1109.9 1003.1 1102.3 1029.5 1094.7 1056.0 1087.8 1078.7 1081.0 1101.4 1096.0 1099.0 1104.4 1097.2 1106.6 1094.8 1104.3 1092.2 1106.5 1090.0 1130.0 1087.8 1152.5 1087.0 1190.0 1086.6 1225.4 1086.2 1262.5 1084.9 1278.0 1083.6 1280.8 1081.8 1282.0 1080.4 1285.0 1080.0 1340.0 1079.8 1393.7 1079.4 1408.0 1078.9 1412.3 1078.0 1408.0 1077.1 1380.0 1075.5 1352.5 1073.9 1300.0 1070.6 1270.0 1069.7 1207.5 1068.2 1165.0 1066.0 1148.0 1065.0 1142.9 1063.6 1148.0 1062.4 1170.0 1061.4 1207.5 1060.8 1260.0 1060.2 1278.0 1059.6 1280.8 1057.6 1281.2 1054.8 1284.5 1052.9 1350.0 1052.6 1407.5 1052.5 1462.5 1051.8 1477.0 1050.6 1482.4 1049.1 1477.0 1047.6 1468.5 1046.2 1458.0 1044.2 1458.5 1041.6 1462.0 1040.3 1448.7 1038.8 1407.5 1036.7 1352.5 1035.4 1290.6 1034.0 1283.6 1033.3 1282.0 1031.4 1280.0 1029.6 1250.0 1029.6 1207.5 1029.7 1170.0 1028.6 1155.0 1027.9 1151.1 1027.1 1155.0 1026.1 1170.0 1025.0 1207.5 1023.0 1270.0 1021.6 1352.5 1018.2 1407.5 1016.1 1417.5 1015.6 1421.2 1014.7 1417.5 1013.8 1407.5 1013.4 1352.5 1012.3 1290.6 1009.9 1283.5 1009.0 1281.8 1007.4 1281.0 1005.0 1278.5 1003.2 1200.0 1003.1Z" fill="none" stroke="#EE7B1A" stroke-width="3.1" stroke-linejoin="round"/>
<path d="M1109.9 1003.1L1097.5 1046" stroke="#2A0A9A" stroke-width="2.8"/>
<path d="M1094.7 1056.5L1090.0 1036.0L1097.5 1043.8L1107.6 1039.9Z" fill="#0000FF"/>
<path d="M1158 1087.2L1215 1086.4" stroke="#2A0A9A" stroke-width="2.8"/>
<path d="M1225.8 1086.2L1208.9 1094.6L1214.3 1086.4L1208.7 1078.2Z" fill="#0000FF"/>
<path d="M1114.4 801Q1118 816 1133.5 827" fill="none" stroke="#000" stroke-width="2" stroke-dasharray="3.8 2.6"/>
<path d="M1144.6 832.6L1131.2 832.6L1136.6 822.2Z" fill="#000"/>
<path d="M1067.7 993.5Q1072 1011 1087 1020.5" fill="none" stroke="#000" stroke-width="2" stroke-dasharray="3.8 2.6"/>
<path d="M1098.2 1024.6L1084.8 1023.2L1092.5 1017.4Z" fill="#000"/>
<text x="1020" y="988" style="font-size:27.5px">Spinning rotor</text>
<path d="M134.5 507.3v-8 M236.75 507.3v-8 M339 507.3v-8 M441.25 507.3v-8 M543.5 507.3v-8 M645.75 507.3v-8 M748 507.3v-8 M185.62 507.3v-4.5 M287.88 507.3v-4.5 M390.12 507.3v-4.5 M492.38 507.3v-4.5 M594.62 507.3v-4.5 M696.88 507.3v-4.5 M134.5 458.58h8 M134.5 361.15h8 M134.5 263.72h8 M134.5 166.29h8 M134.5 68.86h8 M134.5 409.87h4.5 M134.5 312.44h4.5 M134.5 215.01h4.5 M134.5 117.57h4.5" stroke="#000" stroke-width="2.3" fill="none"/>
<rect x="134.5" y="44.5" width="613.5" height="462.8" fill="none" stroke="#000" stroke-width="2.6"/>
<text x="134.5" y="547.5" text-anchor="middle" class="t40">−15</text>
<text x="236.75" y="547.5" text-anchor="middle" class="t40">−10</text>
<text x="339" y="547.5" text-anchor="middle" class="t40">−5</text>
<text x="441.25" y="547.5" text-anchor="middle" class="t40">0</text>
<text x="543.5" y="547.5" text-anchor="middle" class="t40">5</text>
<text x="645.75" y="547.5" text-anchor="middle" class="t40">10</text>
<text x="748" y="547.5" text-anchor="middle" class="t40">15</text>
<text x="125.5" y="470.18" text-anchor="end" class="t40">0.0</text>
<text x="125.5" y="372.75" text-anchor="end" class="t40">0.2</text>
<text x="125.5" y="275.32" text-anchor="end" class="t40">0.4</text>
<text x="125.5" y="177.89" text-anchor="end" class="t40">0.6</text>
<text x="125.5" y="80.46" text-anchor="end" class="t40">0.8</text>
<path d="M988 507.5v-8 M1086.47 507.5v-8 M1184.93 507.5v-8 M1283.4 507.5v-8 M1381.87 507.5v-8 M1480.33 507.5v-8 M1578.8 507.5v-8 M1037.23 507.5v-4.5 M1135.7 507.5v-4.5 M1234.17 507.5v-4.5 M1332.63 507.5v-4.5 M1431.1 507.5v-4.5 M1529.57 507.5v-4.5 M988 468.93h8 M988 391.77h8 M988 314.62h8 M988 237.48h8 M988 160.33h8 M988 83.18h8 M988 430.35h4.5 M988 353.2h4.5 M988 276.05h4.5 M988 198.9h4.5 M988 121.75h4.5" stroke="#000" stroke-width="2.3" fill="none"/>
<rect x="988" y="44.6" width="590.8" height="462.9" fill="none" stroke="#000" stroke-width="2.6"/>
<text x="988" y="547.7" text-anchor="middle" class="t40">−15</text>
<text x="1086.47" y="547.7" text-anchor="middle" class="t40">−10</text>
<text x="1184.93" y="547.7" text-anchor="middle" class="t40">−5</text>
<text x="1283.4" y="547.7" text-anchor="middle" class="t40">0</text>
<text x="1381.87" y="547.7" text-anchor="middle" class="t40">5</text>
<text x="1480.33" y="547.7" text-anchor="middle" class="t40">10</text>
<text x="1578.8" y="547.7" text-anchor="middle" class="t40">15</text>
<text x="979" y="480.53" text-anchor="end" class="t40">−0.2</text>
<text x="979" y="403.38" text-anchor="end" class="t40">−0.1</text>
<text x="979" y="326.23" text-anchor="end" class="t40">0.0</text>
<text x="979" y="249.08" text-anchor="end" class="t40">0.1</text>
<text x="979" y="171.93" text-anchor="end" class="t40">0.2</text>
<text x="979" y="94.78" text-anchor="end" class="t40">0.3</text>
<path d="M168.2 1138.2v-8 M265.05 1138.2v-8 M361.9 1138.2v-8 M458.75 1138.2v-8 M555.6 1138.2v-8 M652.45 1138.2v-8 M749.3 1138.2v-8 M216.62 1138.2v-4.5 M313.47 1138.2v-4.5 M410.32 1138.2v-4.5 M507.17 1138.2v-4.5 M604.02 1138.2v-4.5 M700.87 1138.2v-4.5 M168.2 1106.34h8 M168.2 1042.63h8 M168.2 978.91h8 M168.2 915.2h8 M168.2 851.49h8 M168.2 787.77h8 M168.2 724.06h8 M168.2 1074.49h4.5 M168.2 1010.77h4.5 M168.2 947.06h4.5 M168.2 883.34h4.5 M168.2 819.63h4.5 M168.2 755.91h4.5" stroke="#000" stroke-width="2.3" fill="none"/>
<rect x="168.2" y="692.2" width="581.1" height="446" fill="none" stroke="#000" stroke-width="2.6"/>
<text x="168.2" y="1177.8" text-anchor="middle" class="t40">−15</text>
<text x="265.05" y="1177.8" text-anchor="middle" class="t40">−10</text>
<text x="361.9" y="1177.8" text-anchor="middle" class="t40">−5</text>
<text x="458.75" y="1177.8" text-anchor="middle" class="t40">0</text>
<text x="555.6" y="1177.8" text-anchor="middle" class="t40">5</text>
<text x="652.45" y="1177.8" text-anchor="middle" class="t40">10</text>
<text x="749.3" y="1177.8" text-anchor="middle" class="t40">15</text>
<text x="159.2" y="1117.94" text-anchor="end" class="t40">−600</text>
<text x="159.2" y="1054.23" text-anchor="end" class="t40">−400</text>
<text x="159.2" y="990.51" text-anchor="end" class="t40">−200</text>
<text x="159.2" y="926.8" text-anchor="end" class="t40">0</text>
<text x="159.2" y="863.09" text-anchor="end" class="t40">200</text>
<text x="159.2" y="799.37" text-anchor="end" class="t40">400</text>
<text x="159.2" y="735.66" text-anchor="end" class="t40">600</text>
<path d="M1001.4 1136.8v-8 M1094.93 1136.8v-8 M1188.47 1136.8v-8 M1282 1136.8v-8 M1375.53 1136.8v-8 M1469.07 1136.8v-8 M1562.6 1136.8v-8 M1048.17 1136.8v-4.5 M1141.7 1136.8v-4.5 M1235.23 1136.8v-4.5 M1328.77 1136.8v-4.5 M1422.3 1136.8v-4.5 M1515.83 1136.8v-4.5 M1001.4 1136.8h8 M1001.4 1054.8h8 M1001.4 972.8h8 M1001.4 890.8h8 M1001.4 808.8h8 M1001.4 726.8h8 M1001.4 1095.8h4.5 M1001.4 1013.8h4.5 M1001.4 931.8h4.5 M1001.4 849.8h4.5 M1001.4 767.8h4.5" stroke="#000" stroke-width="2.3" fill="none"/>
<rect x="1001.4" y="710.4" width="561.2" height="426.4" fill="none" stroke="#000" stroke-width="2.6"/>
<text x="1001.4" y="1176.7" text-anchor="middle" class="t40">−600</text>
<text x="1094.93" y="1176.7" text-anchor="middle" class="t40">−400</text>
<text x="1188.47" y="1176.7" text-anchor="middle" class="t40">−200</text>
<text x="1282" y="1176.7" text-anchor="middle" class="t40">0</text>
<text x="1375.53" y="1176.7" text-anchor="middle" class="t40">200</text>
<text x="1469.07" y="1176.7" text-anchor="middle" class="t40">400</text>
<text x="1562.6" y="1176.7" text-anchor="middle" class="t40">600</text>
<text x="992.4" y="1148.4" text-anchor="end" class="t40">−450</text>
<text x="992.4" y="1066.4" text-anchor="end" class="t40">−400</text>
<text x="992.4" y="984.4" text-anchor="end" class="t40">−350</text>
<text x="992.4" y="902.4" text-anchor="end" class="t40">−300</text>
<text x="992.4" y="820.4" text-anchor="end" class="t40">−250</text>
<text x="992.4" y="738.4" text-anchor="end" class="t40">−200</text>
<text x="441.3" y="608.8" text-anchor="middle" style="font-size:39.6px">Displacement (mm)</text>
<text x="1283.2" y="608.8" text-anchor="middle" style="font-size:39.6px">Displacement (mm)</text>
<text x="459.4" y="1240" text-anchor="middle" style="font-size:39.6px">Displacement (mm)</text>
<text x="1281.5" y="1237.8" text-anchor="middle" style="font-size:39px">Pawl rotation speed (rpm)</text>
<text transform="translate(57,275.6) rotate(-90)" text-anchor="middle" style="font-size:39.6px">Potential energy (mJ)</text>
<text transform="translate(887.9,277.4) rotate(-90)" text-anchor="middle" style="font-size:40.4px">Velocity (m/s)</text>
<text transform="translate(56.8,914.9) rotate(-90)" text-anchor="middle" style="font-size:39.8px">Pawl rotation speed (rpm)</text>
<text transform="translate(891.3,923.3) rotate(-90)" text-anchor="middle" style="font-size:39px">Rotor rotation speed (rpm)</text>
<text x="-5" y="38.5" style="font-size:55px">a</text>
<text x="810" y="38.5" style="font-size:55px">b</text>
<text x="-2" y="678" style="font-size:55px">c</text>
<text x="810" y="678" style="font-size:55px">d</text>
<path d="M149.6 76.2H233.5" stroke="#EE7B1A" stroke-width="2.6" stroke-dasharray="19 9 3 9"/>
<path d="M149.6 119.8H228.5" stroke="#FF00FF" stroke-width="2.6" stroke-dasharray="9.5 6"/>
<path d="M150.6 164.4H232.4" stroke="#0A0082" stroke-width="2.6"/>
<text x="242" y="88.8" class="t35">Spiral spring</text>
<text x="242" y="132.4" class="t35">Curved beam</text>
<text x="242" y="176.6" class="t35">Total</text>
<path d="M1336.9 77.8H1419.8" stroke="#EE7B1A" stroke-width="2.6"/>
<path d="M1336.9 121.9H1419.8" stroke="#06680A" stroke-width="2.6"/>
<text x="1428.5" y="90.4" class="t35">Bistable</text>
<text x="1428.5" y="134.5" class="t35">Linear</text>
<path d="M510.2 723.4H592.2" stroke="#EE7B1A" stroke-width="2.6"/>
<path d="M510.2 767.5H592.2" stroke="#06680A" stroke-width="2.6"/>
<text x="601.4" y="736" class="t35">Bistable</text>
<text x="601.4" y="780.1" class="t35">Linear</text>
<path d="M1334.1 739.7H1414.5" stroke="#EE7B1A" stroke-width="2.6"/>
<path d="M1334.1 783.3H1414.5" stroke="#06680A" stroke-width="2.6"/>
<text x="1423.7" y="752.3" class="t35">Bistable</text>
<text x="1423.7" y="795.9" class="t35">Linear</text>
<text x="1021.5" y="793.6" style="font-size:27.5px">Spinning rotor</text>
<!--ANNOT-->
</svg>
</body></html>
